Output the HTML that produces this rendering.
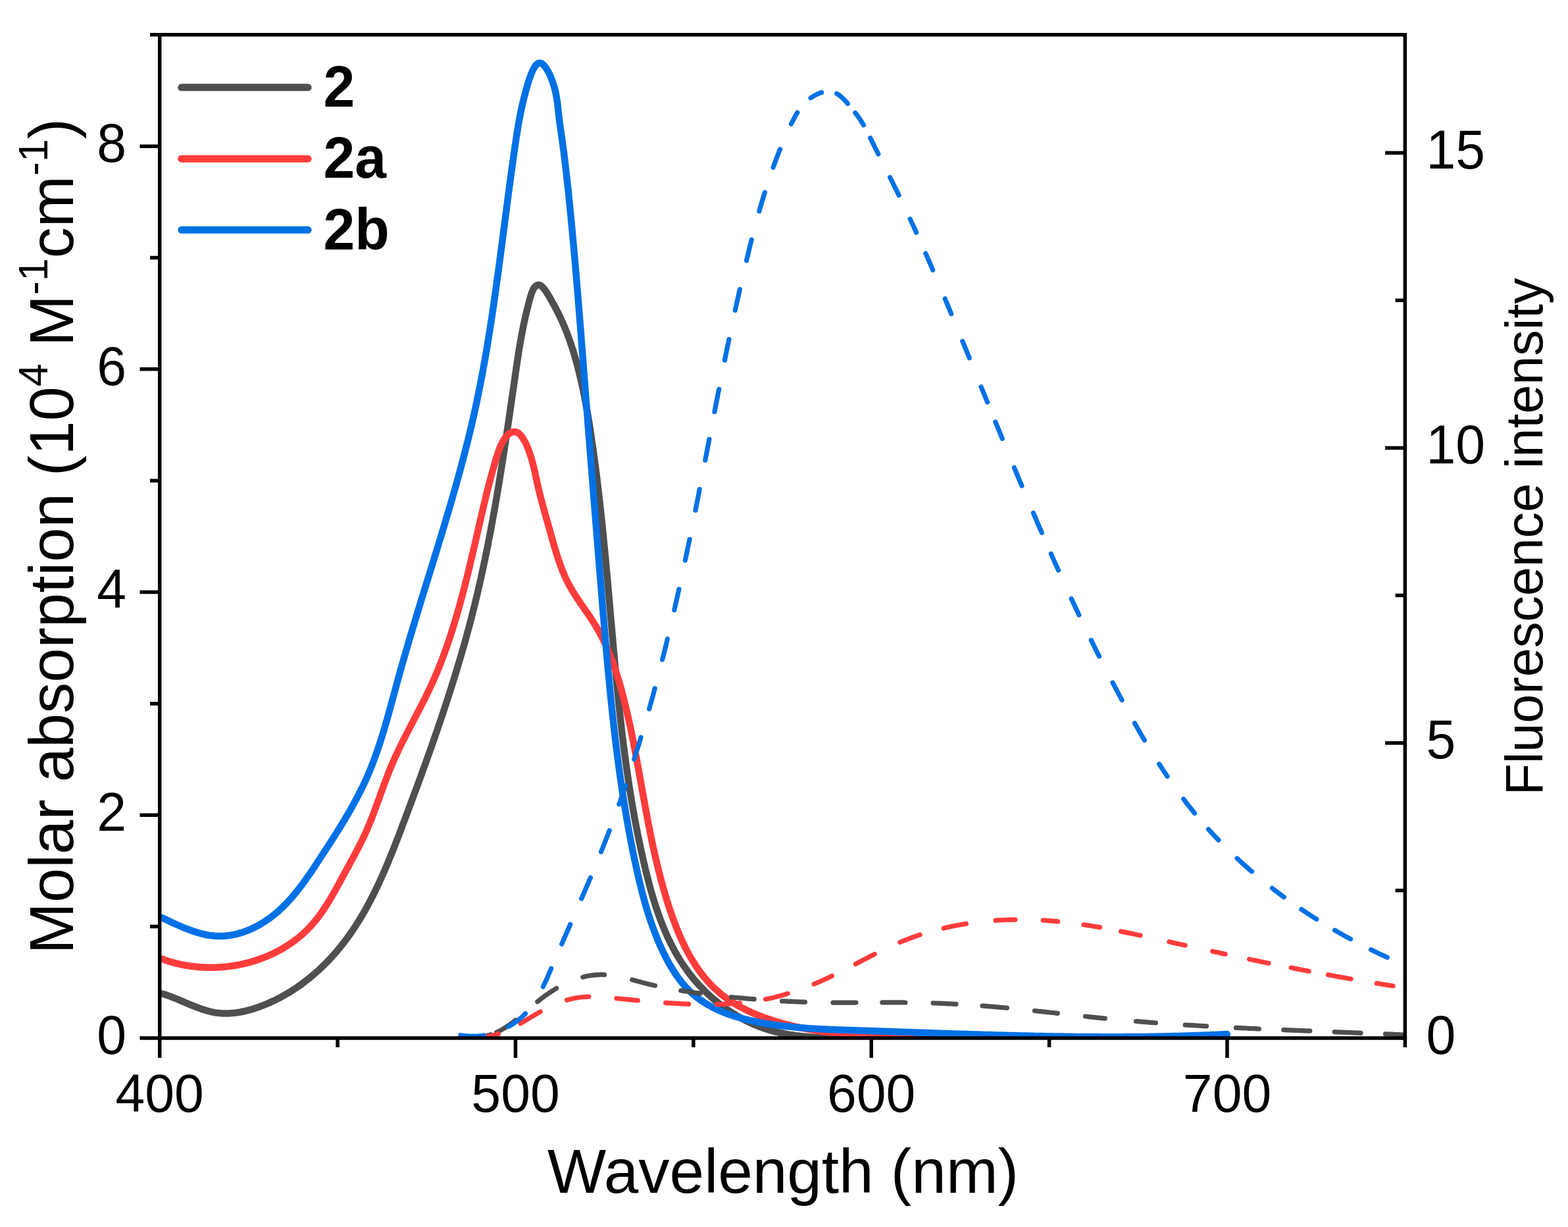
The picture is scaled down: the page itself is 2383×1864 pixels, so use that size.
<!DOCTYPE html>
<html><head><meta charset="utf-8"><style>html,body{margin:0;padding:0;background:#fff;overflow:hidden}svg{display:block}</style></head><body>
<svg width="2383" height="1864" viewBox="0 0 2383 1864">
<rect width="2383" height="1864" fill="#fff"/>
<defs><clipPath id="pc"><rect x="242.7" y="52.85" width="1892.6499999999999" height="1524.0500000000002"/></clipPath></defs>
<g fill="none" stroke-linecap="round" stroke-linejoin="round">
<g clip-path="url(#pc)">
<path d="M245.7 1509.4L248.0 1510.1L250.3 1510.8L252.6 1511.5L254.9 1512.3L257.2 1513.1L259.5 1514.0L261.8 1514.9L264.2 1515.8L266.5 1516.7L268.8 1517.6L271.1 1518.6L273.5 1519.6L275.8 1520.6L278.1 1521.6L280.5 1522.6L282.8 1523.6L285.2 1524.6L287.5 1525.6L289.9 1526.6L292.3 1527.5L294.6 1528.5L297.0 1529.4L299.4 1530.3L301.8 1531.2L304.2 1532.1L306.6 1532.9L309.0 1533.7L311.4 1534.5L313.8 1535.2L316.2 1535.9L318.6 1536.5L321.0 1537.1L323.5 1537.6L325.9 1538.1L328.3 1538.5L330.8 1538.8L333.2 1539.1L335.7 1539.3L338.1 1539.4L340.6 1539.5L343.0 1539.6L345.5 1539.5L348.0 1539.5L350.4 1539.3L352.9 1539.1L355.3 1538.9L357.8 1538.6L360.3 1538.3L362.7 1537.9L365.2 1537.5L367.6 1537.0L370.1 1536.5L372.5 1536.0L374.9 1535.4L377.4 1534.7L379.8 1534.1L382.2 1533.4L384.6 1532.7L387.0 1531.9L389.4 1531.1L391.8 1530.3L394.1 1529.4L396.5 1528.6L398.9 1527.7L401.2 1526.8L403.5 1525.8L405.8 1524.9L408.2 1523.9L410.4 1522.9L412.7 1521.8L415.0 1520.8L417.3 1519.7L419.5 1518.6L421.8 1517.5L424.0 1516.3L426.2 1515.2L428.4 1514.0L430.6 1512.8L432.8 1511.5L434.9 1510.3L437.1 1509.0L439.2 1507.7L441.4 1506.4L443.5 1505.1L445.6 1503.7L447.7 1502.4L449.8 1501.0L451.8 1499.6L453.9 1498.2L455.9 1496.7L458.0 1495.3L460.0 1493.8L462.0 1492.3L464.0 1490.8L465.9 1489.2L467.9 1487.7L469.9 1486.1L471.8 1484.6L473.7 1483.0L475.6 1481.4L477.5 1479.7L479.4 1478.1L481.3 1476.4L483.1 1474.8L485.0 1473.1L486.8 1471.4L488.6 1469.7L490.4 1467.9L492.2 1466.2L494.0 1464.5L495.7 1462.7L497.5 1460.9L499.2 1459.1L500.9 1457.3L502.6 1455.5L504.3 1453.7L506.0 1451.8L507.6 1450.0L509.3 1448.1L510.9 1446.2L512.5 1444.3L514.1 1442.4L515.7 1440.5L517.2 1438.6L518.8 1436.7L520.3 1434.8L521.8 1432.8L523.3 1430.9L524.8 1428.9L526.3 1426.9L527.8 1424.9L529.2 1422.9L530.7 1420.9L532.1 1418.9L533.5 1416.9L534.9 1414.9L536.3 1412.8L537.7 1410.8L539.0 1408.7L540.4 1406.6L541.7 1404.6L543.0 1402.5L544.3 1400.4L545.7 1398.3L546.9 1396.2L548.2 1394.1L549.5 1391.9L550.7 1389.8L552.0 1387.7L553.2 1385.5L554.5 1383.4L555.7 1381.2L556.9 1379.0L558.1 1376.9L559.3 1374.7L560.4 1372.5L561.6 1370.3L562.8 1368.1L563.9 1365.9L565.0 1363.7L566.2 1361.5L567.3 1359.3L568.4 1357.0L569.5 1354.8L570.6 1352.6L571.7 1350.3L572.8 1348.1L573.8 1345.8L574.9 1343.6L576.0 1341.3L577.0 1339.0L578.0 1336.8L579.1 1334.5L580.1 1332.2L581.1 1329.9L582.1 1327.6L583.2 1325.3L584.2 1323.0L585.2 1320.7L586.1 1318.4L587.1 1316.1L588.1 1313.8L589.1 1311.5L590.1 1309.2L591.0 1306.8L592.0 1304.5L592.9 1302.2L593.9 1299.9L594.8 1297.5L595.8 1295.2L596.7 1292.9L597.6 1290.5L598.6 1288.2L599.5 1285.8L600.4 1283.5L601.3 1281.2L602.2 1278.8L603.1 1276.5L604.1 1274.1L605.0 1271.8L605.9 1269.4L606.8 1267.1L607.7 1264.7L608.6 1262.3L609.5 1260.0L610.3 1257.6L611.2 1255.3L612.1 1252.9L613.0 1250.6L613.9 1248.2L614.8 1245.9L615.7 1243.5L616.6 1241.2L617.4 1238.8L618.3 1236.5L619.2 1234.1L620.1 1231.7L621.0 1229.4L621.8 1227.0L622.7 1224.7L623.6 1222.3L624.5 1220.0L625.4 1217.6L626.2 1215.3L627.1 1212.9L628.0 1210.6L628.8 1208.2L629.7 1205.9L630.6 1203.5L631.5 1201.2L632.3 1198.8L633.2 1196.5L634.1 1194.1L634.9 1191.8L635.8 1189.5L636.6 1187.1L637.5 1184.8L638.4 1182.4L639.2 1180.1L640.1 1177.7L640.9 1175.4L641.8 1173.0L642.6 1170.7L643.5 1168.3L644.3 1166.0L645.2 1163.6L646.0 1161.3L646.9 1158.9L647.7 1156.6L648.6 1154.2L649.4 1151.9L650.2 1149.5L651.1 1147.2L651.9 1144.8L652.8 1142.5L653.6 1140.1L654.4 1137.8L655.3 1135.4L656.1 1133.1L656.9 1130.7L657.7 1128.4L658.6 1126.0L659.4 1123.7L660.2 1121.3L661.0 1119.0L661.8 1116.6L662.6 1114.3L663.5 1111.9L664.3 1109.6L665.1 1107.2L665.9 1104.9L666.7 1102.5L667.5 1100.2L668.3 1097.8L669.1 1095.4L669.9 1093.1L670.7 1090.7L671.5 1088.4L672.3 1086.0L673.1 1083.7L673.8 1081.3L674.6 1078.9L675.4 1076.6L676.2 1074.2L677.0 1071.9L677.7 1069.5L678.5 1067.1L679.3 1064.8L680.1 1062.4L680.8 1060.0L681.6 1057.7L682.3 1055.3L683.1 1053.0L683.9 1050.6L684.6 1048.2L685.4 1045.9L686.1 1043.5L686.9 1041.1L687.6 1038.7L688.4 1036.4L689.1 1034.0L689.8 1031.6L690.6 1029.3L691.3 1026.9L692.0 1024.5L692.8 1022.1L693.5 1019.7L694.2 1017.4L694.9 1015.0L695.7 1012.6L696.4 1010.2L697.1 1007.8L697.8 1005.5L698.5 1003.1L699.2 1000.7L699.9 998.3L700.6 995.9L701.3 993.5L702.0 991.1L702.7 988.8L703.4 986.4L704.1 984.0L704.7 981.6L705.4 979.2L706.1 976.8L706.8 974.4L707.4 972.0L708.1 969.6L708.8 967.2L709.4 964.8L710.1 962.4L710.7 960.0L711.4 957.6L712.0 955.2L712.7 952.8L713.3 950.3L714.0 947.9L714.6 945.5L715.2 943.1L715.9 940.7L716.5 938.3L717.1 935.9L717.7 933.4L718.3 931.0L718.9 928.6L719.6 926.2L720.2 923.8L720.8 921.3L721.4 918.9L722.0 916.5L722.6 914.0L723.1 911.6L723.7 909.2L724.3 906.7L724.9 904.3L725.5 901.9L726.0 899.4L726.6 897.0L727.2 894.5L727.7 892.1L728.3 889.7L728.9 887.2L729.4 884.8L730.0 882.3L730.5 879.9L731.1 877.4L731.6 875.0L732.1 872.5L732.7 870.1L733.2 867.6L733.7 865.2L734.3 862.7L734.8 860.3L735.3 857.8L735.8 855.3L736.3 852.9L736.9 850.4L737.4 848.0L737.9 845.5L738.4 843.0L738.9 840.6L739.4 838.1L739.9 835.7L740.4 833.2L740.9 830.7L741.4 828.3L741.8 825.8L742.3 823.3L742.8 820.9L743.3 818.4L743.8 815.9L744.2 813.4L744.7 811.0L745.2 808.5L745.7 806.0L746.1 803.6L746.6 801.1L747.0 798.6L747.5 796.2L748.0 793.7L748.4 791.2L748.9 788.7L749.3 786.3L749.8 783.8L750.2 781.3L750.7 778.8L751.1 776.4L751.5 773.9L752.0 771.4L752.4 768.9L752.8 766.5L753.3 764.0L753.7 761.5L754.1 759.0L754.6 756.6L755.0 754.1L755.4 751.6L755.8 749.1L756.2 746.7L756.7 744.2L757.1 741.7L757.5 739.3L757.9 736.8L758.3 734.3L758.7 731.8L759.1 729.4L759.5 726.9L759.9 724.4L760.3 721.9L760.7 719.5L761.1 717.0L761.5 714.5L761.9 712.1L762.3 709.6L762.7 707.1L763.1 704.6L763.5 702.2L763.9 699.7L764.3 697.2L764.6 694.8L765.0 692.3L765.4 689.8L765.8 687.4L766.2 684.9L766.6 682.5L766.9 680.0L767.3 677.5L767.7 675.1L768.1 672.6L768.4 670.1L768.8 667.7L769.2 665.2L769.5 662.8L769.9 660.3L770.3 657.9L770.6 655.4L771.0 653.0L771.4 650.5L771.7 648.0L772.1 645.6L772.5 643.1L772.8 640.7L773.2 638.2L773.5 635.8L773.9 633.4L774.3 630.9L774.6 628.5L775.0 626.0L775.3 623.6L775.7 621.1L776.0 618.7L776.4 616.3L776.8 613.8L777.1 611.4L777.5 609.0L777.8 606.5L778.2 604.1L778.5 601.7L778.9 599.3L779.2 596.8L779.6 594.4L779.9 592.0L780.3 589.6L780.6 587.1L781.0 584.7L781.3 582.3L781.6 579.9L782.0 577.5L782.3 575.1L782.7 572.7L783.0 570.2L783.4 567.8L783.7 565.4L784.1 563.0L784.4 560.6L784.8 558.2L785.1 555.8L785.5 553.4L785.8 551.0L786.2 548.6L786.6 546.2L786.9 543.8L787.3 541.3L787.7 538.9L788.0 536.5L788.4 534.0L788.8 531.6L789.2 529.2L789.6 526.7L790.0 524.2L790.5 521.8L790.9 519.3L791.3 516.8L791.8 514.3L792.2 511.8L792.7 509.3L793.2 506.7L793.7 504.2L794.2 501.6L794.7 499.1L795.2 496.5L795.7 493.9L796.3 491.3L796.8 488.6L797.4 486.0L798.0 483.3L798.6 480.7L799.2 478.0L799.9 475.3L800.5 472.5L801.2 469.8L801.9 467.0L802.6 464.2L803.3 461.4L804.0 458.6L804.8 455.7L805.6 452.9L806.4 450.1L807.2 447.4L808.1 444.8L809.1 442.4L810.1 440.1L811.2 438.1L812.4 436.4L813.7 434.9L815.0 433.9L816.5 433.1L817.9 432.8L819.5 433.0L821.0 433.5L822.6 434.5L824.1 435.8L825.7 437.4L827.2 439.2L828.8 441.3L830.3 443.5L831.8 445.9L833.3 448.3L834.7 450.7L836.2 453.2L837.5 455.6L838.9 458.0L840.2 460.4L841.5 462.7L842.8 465.0L844.0 467.3L845.2 469.6L846.4 471.9L847.5 474.1L848.7 476.4L849.8 478.6L850.8 480.8L851.9 483.1L852.9 485.3L853.9 487.5L855.0 489.8L855.9 492.0L856.9 494.3L857.9 496.5L858.8 498.8L859.7 501.1L860.6 503.4L861.5 505.7L862.4 508.0L863.3 510.3L864.2 512.6L865.0 514.9L865.8 517.3L866.6 519.6L867.4 522.0L868.2 524.3L869.0 526.7L869.8 529.0L870.5 531.4L871.3 533.8L872.0 536.2L872.7 538.5L873.4 540.9L874.1 543.3L874.8 545.7L875.5 548.1L876.2 550.5L876.8 552.9L877.5 555.3L878.1 557.8L878.7 560.2L879.3 562.6L879.9 565.0L880.5 567.4L881.1 569.9L881.7 572.3L882.3 574.7L882.8 577.1L883.4 579.6L883.9 582.0L884.5 584.4L885.0 586.9L885.5 589.3L886.1 591.8L886.6 594.2L887.1 596.6L887.6 599.1L888.1 601.5L888.5 604.0L889.0 606.4L889.5 608.9L890.0 611.3L890.4 613.8L890.9 616.3L891.3 618.7L891.7 621.2L892.2 623.6L892.6 626.1L893.0 628.5L893.5 631.0L893.9 633.5L894.3 635.9L894.7 638.4L895.1 640.9L895.5 643.3L895.9 645.8L896.3 648.3L896.7 650.7L897.0 653.2L897.4 655.7L897.8 658.1L898.2 660.6L898.5 663.1L898.9 665.6L899.3 668.0L899.6 670.5L900.0 673.0L900.4 675.4L900.7 677.9L901.1 680.4L901.4 682.9L901.8 685.3L902.1 687.8L902.4 690.3L902.8 692.8L903.1 695.2L903.5 697.7L903.8 700.2L904.1 702.7L904.4 705.2L904.8 707.6L905.1 710.1L905.4 712.6L905.7 715.1L906.0 717.5L906.4 720.0L906.7 722.5L907.0 725.0L907.3 727.5L907.6 729.9L907.9 732.4L908.2 734.9L908.5 737.4L908.8 739.9L909.1 742.3L909.4 744.8L909.7 747.3L910.0 749.8L910.3 752.3L910.5 754.8L910.8 757.2L911.1 759.7L911.4 762.2L911.7 764.7L911.9 767.2L912.2 769.7L912.5 772.1L912.8 774.6L913.0 777.1L913.3 779.6L913.6 782.1L913.8 784.6L914.1 787.0L914.4 789.5L914.6 792.0L914.9 794.5L915.1 797.0L915.4 799.5L915.7 802.0L915.9 804.4L916.2 806.9L916.4 809.4L916.7 811.9L916.9 814.4L917.2 816.9L917.4 819.4L917.7 821.9L917.9 824.3L918.1 826.8L918.4 829.3L918.6 831.8L918.9 834.3L919.1 836.8L919.3 839.3L919.6 841.8L919.8 844.3L920.1 846.7L920.3 849.2L920.5 851.7L920.8 854.2L921.0 856.7L921.2 859.2L921.4 861.7L921.7 864.2L921.9 866.7L922.1 869.1L922.4 871.6L922.6 874.1L922.8 876.6L923.0 879.1L923.3 881.6L923.5 884.1L923.7 886.6L923.9 889.1L924.2 891.5L924.4 894.0L924.6 896.5L924.8 899.0L925.0 901.5L925.3 904.0L925.5 906.5L925.7 909.0L925.9 911.5L926.1 914.0L926.4 916.4L926.6 918.9L926.8 921.4L927.0 923.9L927.2 926.4L927.5 928.9L927.7 931.4L927.9 933.9L928.1 936.4L928.3 938.9L928.5 941.3L928.8 943.8L929.0 946.3L929.2 948.8L929.4 951.3L929.6 953.8L929.9 956.3L930.1 958.8L930.3 961.3L930.5 963.8L930.7 966.2L931.0 968.7L931.2 971.2L931.4 973.7L931.6 976.2L931.8 978.7L932.1 981.2L932.3 983.7L932.5 986.1L932.7 988.6L933.0 991.1L933.2 993.6L933.4 996.1L933.6 998.6L933.9 1001.1L934.1 1003.6L934.3 1006.0L934.5 1008.5L934.8 1011.0L935.0 1013.5L935.2 1016.0L935.5 1018.5L935.7 1021.0L935.9 1023.5L936.2 1025.9L936.4 1028.4L936.6 1030.9L936.9 1033.4L937.1 1035.9L937.4 1038.4L937.6 1040.9L937.9 1043.3L938.1 1045.8L938.3 1048.3L938.6 1050.8L938.8 1053.3L939.1 1055.8L939.3 1058.2L939.6 1060.7L939.9 1063.2L940.1 1065.7L940.4 1068.2L940.6 1070.7L940.9 1073.1L941.2 1075.6L941.4 1078.1L941.7 1080.6L942.0 1083.1L942.2 1085.5L942.5 1088.0L942.8 1090.5L943.0 1093.0L943.3 1095.5L943.6 1098.0L943.9 1100.4L944.2 1102.9L944.4 1105.4L944.7 1107.9L945.0 1110.3L945.3 1112.8L945.6 1115.3L945.9 1117.8L946.2 1120.3L946.5 1122.7L946.8 1125.2L947.1 1127.7L947.4 1130.2L947.7 1132.6L948.0 1135.1L948.4 1137.6L948.7 1140.1L949.0 1142.5L949.3 1145.0L949.6 1147.5L950.0 1150.0L950.3 1152.4L950.6 1154.9L951.0 1157.4L951.3 1159.9L951.7 1162.3L952.0 1164.8L952.3 1167.3L952.7 1169.7L953.0 1172.2L953.4 1174.7L953.8 1177.2L954.1 1179.6L954.5 1182.1L954.9 1184.6L955.2 1187.0L955.6 1189.5L956.0 1192.0L956.4 1194.4L956.7 1196.9L957.1 1199.4L957.5 1201.8L957.9 1204.3L958.3 1206.8L958.7 1209.2L959.1 1211.7L959.5 1214.2L959.9 1216.6L960.3 1219.1L960.8 1221.6L961.2 1224.0L961.6 1226.5L962.0 1228.9L962.5 1231.4L962.9 1233.9L963.3 1236.3L963.8 1238.8L964.2 1241.2L964.7 1243.7L965.1 1246.2L965.6 1248.6L966.1 1251.1L966.5 1253.5L967.0 1256.0L967.5 1258.5L968.0 1260.9L968.4 1263.4L968.9 1265.8L969.4 1268.3L969.9 1270.7L970.4 1273.2L970.9 1275.6L971.4 1278.1L971.9 1280.5L972.5 1283.0L973.0 1285.4L973.5 1287.9L974.0 1290.3L974.6 1292.8L975.1 1295.2L975.6 1297.7L976.2 1300.1L976.7 1302.6L977.3 1305.0L977.9 1307.5L978.4 1309.9L979.0 1312.4L979.6 1314.8L980.2 1317.3L980.7 1319.7L981.3 1322.2L981.9 1324.6L982.5 1327.0L983.1 1329.5L983.8 1331.9L984.4 1334.4L985.0 1336.8L985.6 1339.2L986.3 1341.7L986.9 1344.1L987.6 1346.5L988.2 1348.9L988.9 1351.3L989.6 1353.8L990.3 1356.2L991.0 1358.6L991.7 1361.0L992.4 1363.4L993.1 1365.8L993.9 1368.2L994.6 1370.6L995.4 1373.0L996.1 1375.4L996.9 1377.7L997.7 1380.1L998.5 1382.5L999.3 1384.8L1000.1 1387.2L1000.9 1389.5L1001.8 1391.9L1002.6 1394.2L1003.5 1396.6L1004.4 1398.9L1005.3 1401.2L1006.2 1403.5L1007.1 1405.8L1008.0 1408.1L1009.0 1410.4L1009.9 1412.7L1010.9 1415.0L1011.9 1417.3L1012.9 1419.5L1013.9 1421.8L1014.9 1424.0L1016.0 1426.3L1017.1 1428.5L1018.1 1430.7L1019.2 1432.9L1020.3 1435.1L1021.5 1437.3L1022.6 1439.5L1023.8 1441.7L1024.9 1443.9L1026.1 1446.0L1027.4 1448.2L1028.6 1450.3L1029.8 1452.5L1031.1 1454.6L1032.4 1456.7L1033.7 1458.8L1035.0 1460.9L1036.4 1462.9L1037.7 1465.0L1039.1 1467.1L1040.5 1469.1L1041.9 1471.1L1043.4 1473.1L1044.8 1475.1L1046.3 1477.1L1047.8 1479.1L1049.3 1481.1L1050.9 1483.0L1052.4 1485.0L1054.0 1486.9L1055.6 1488.8L1057.3 1490.7L1058.9 1492.6L1060.6 1494.5L1062.3 1496.4L1064.0 1498.2L1065.7 1500.0L1067.5 1501.8L1069.3 1503.6L1071.1 1505.4L1072.9 1507.2L1074.7 1508.9L1076.5 1510.7L1078.4 1512.4L1080.3 1514.1L1082.2 1515.8L1084.1 1517.4L1086.0 1519.1L1088.0 1520.7L1090.0 1522.3L1091.9 1523.9L1093.9 1525.4L1096.0 1527.0L1098.0 1528.5L1100.0 1530.0L1102.1 1531.5L1104.2 1533.0L1106.2 1534.4L1108.3 1535.8L1110.4 1537.2L1112.6 1538.6L1114.7 1539.9L1116.9 1541.3L1119.0 1542.6L1121.2 1543.8L1123.4 1545.1L1125.6 1546.3L1127.8 1547.5L1130.0 1548.7L1132.2 1549.9L1134.5 1551.0L1136.7 1552.1L1139.0 1553.2L1141.2 1554.2L1143.5 1555.3L1145.8 1556.3L1148.1 1557.2L1150.4 1558.2L1152.7 1559.1L1155.0 1560.0L1157.4 1560.8L1159.7 1561.7L1162.0 1562.5L1164.4 1563.2L1166.7 1564.0L1169.1 1564.7L1171.5 1565.4L1173.8 1566.1L1176.2 1566.7L1178.6 1567.3L1181.0 1567.9L1183.4 1568.5L1185.8 1569.0L1188.2 1569.5L1190.6 1570.0L1193.0 1570.5L1195.4 1570.9L1197.8 1571.4L1200.3 1571.8L1202.7 1572.1L1205.2 1572.5L1207.6 1572.9L1210.0 1573.2L1212.5 1573.5L1215.0 1573.8L1217.4 1574.1L1219.9 1574.3L1222.3 1574.6L1224.8 1574.8L1227.3 1575.0L1229.8 1575.2L1232.3 1575.4L1234.7 1575.6L1237.2 1575.7L1239.7 1575.8L1242.2 1576.0L1244.7 1576.1L1247.2 1576.2L1249.7 1576.3L1252.2 1576.4L1254.7 1576.5L1257.2 1576.5L1259.7 1576.6L1262.2 1576.7L1264.7 1576.7L1267.2 1576.7L1269.8 1576.8L1272.3 1576.8L1274.8 1576.8L1277.3 1576.8L1279.8 1576.8L1282.3 1576.8L1284.8 1576.9L1287.4 1576.9L1289.9 1576.9L1292.4 1576.8L1294.9 1576.8L1297.4 1576.8L1300.0 1576.8L1302.5 1576.8L1305.0 1576.8L1307.5 1576.8L1310.0 1576.8L1312.5 1576.8L1315.1 1576.8L1317.6 1576.8L1320.1 1576.8L1322.6 1576.8L1325.1 1576.8L1327.6 1576.8L1330.1 1576.8L1332.6 1576.8L1335.2 1576.8L1337.7 1576.8L1340.2 1576.8L1342.7 1576.8L1345.2 1576.8L1347.7 1576.8L1350.2 1576.8L1352.7 1576.8L1355.2 1576.8L1357.8 1576.8L1360.3 1576.8L1362.8 1576.8L1365.3 1576.8L1367.8 1576.7L1370.3 1576.7L1372.8 1576.7L1375.3 1576.7L1377.8 1576.7L1380.3 1576.7L1382.8 1576.7L1385.3 1576.7L1387.8 1576.7L1390.3 1576.7L1392.9 1576.7L1395.4 1576.7L1397.9 1576.7L1400.4 1576.7L1402.9 1576.7L1405.4 1576.7L1407.9 1576.7L1410.4 1576.7L1412.9 1576.8L1415.4 1576.8L1417.9 1576.8L1420.4 1576.8L1422.9 1576.8L1425.4 1576.8L1427.9 1576.8L1430.4 1576.8L1432.9 1576.8L1435.4 1576.8L1437.9 1576.8L1440.4 1576.8L1442.9 1576.8L1445.4 1576.8L1447.9 1576.8L1450.4 1576.8L1452.9 1576.8L1455.4 1576.8L1457.9 1576.8L1460.4 1576.8L1462.9 1576.8L1465.4 1576.8L1467.9 1576.8L1470.4 1576.8L1472.9 1576.8L1475.4 1576.8L1477.9 1576.8L1480.4 1576.8L1482.9 1576.8L1485.4 1576.8L1487.9 1576.8L1490.4 1576.8L1492.9 1576.8L1495.4 1576.8L1497.8 1576.8L1500.3 1576.8L1502.8 1576.8L1505.3 1576.8L1507.8 1576.9L1510.3 1576.9L1512.8 1576.9L1515.3 1576.9L1517.8 1576.9L1520.3 1576.9L1522.8 1576.9L1525.3 1576.9L1527.8 1576.9L1530.3 1576.9L1532.8 1576.9L1535.3 1576.9L1537.8 1576.9L1540.3 1576.9L1542.8 1576.9L1545.3 1576.9L1547.8 1576.9L1550.2 1576.9L1552.7 1576.9L1555.2 1576.9L1557.7 1576.9L1560.2 1576.9L1562.7 1576.9L1565.2 1576.9L1567.7 1577.0L1570.2 1577.0L1572.7 1577.0L1575.2 1577.0L1577.7 1577.0L1580.2 1577.0L1582.7 1577.0L1585.2 1577.0L1587.7 1577.0L1590.1 1577.0L1592.6 1577.0L1595.1 1577.0L1597.6 1577.0L1600.1 1577.0L1602.6 1577.0L1605.1 1577.0L1607.6 1577.0L1610.1 1577.0L1612.6 1577.0L1615.1 1577.0L1617.6 1577.0L1620.1 1577.0L1622.6 1577.0L1625.1 1577.0L1627.5 1577.0L1630.0 1577.1L1632.5 1577.1L1635.0 1577.1L1637.5 1577.1L1640.0 1577.1L1642.5 1577.1L1645.0 1577.1L1647.5 1577.1L1650.0 1577.1L1652.5 1577.1L1655.0 1577.1L1657.5 1577.1L1660.0 1577.1L1662.5 1577.1L1665.0 1577.1L1667.5 1577.1L1670.0 1577.1L1672.4 1577.1L1674.9 1577.1L1677.4 1577.1L1679.9 1577.1L1682.4 1577.1L1684.9 1577.1L1687.4 1577.1L1689.9 1577.1L1692.4 1577.1L1694.9 1577.1L1697.4 1577.1L1699.9 1577.1L1702.4 1577.1L1704.9 1577.1L1707.4 1577.1L1709.9 1577.1L1712.4 1577.1L1714.9 1577.1L1717.4 1577.1L1719.9 1577.1L1722.4 1577.1L1724.9 1577.1L1727.4 1577.1L1729.9 1577.1L1732.4 1577.1L1734.9 1577.1L1737.4 1577.1L1739.9 1577.1L1742.4 1577.1L1744.9 1577.1L1747.4 1577.1L1749.9 1577.1L1752.4 1577.1L1754.9 1577.1L1757.4 1577.1L1759.9 1577.1L1762.4 1577.1L1764.9 1577.1L1767.4 1577.1L1769.9 1577.1L1772.4 1577.1L1774.9 1577.1L1777.4 1577.1L1779.9 1577.1L1782.4 1577.1L1784.9 1577.1L1787.4 1577.1L1789.9 1577.1L1792.4 1577.1L1794.9 1577.1L1797.4 1577.1L1799.9 1577.1L1802.4 1577.1L1804.9 1577.1L1807.4 1577.1L1809.9 1577.1L1812.4 1577.1L1814.9 1577.1L1817.4 1577.0L1819.9 1577.0L1822.5 1577.0L1825.0 1577.0L1827.5 1577.0L1830.0 1577.0L1832.5 1577.0L1835.0 1577.0L1837.5 1577.0L1840.0 1577.0L1842.5 1577.0L1845.0 1577.0L1847.5 1577.0L1850.1 1577.0L1852.6 1577.0L1855.1 1576.9L1857.6 1576.9L1860.1 1576.9L1862.6 1576.9L1865.1 1576.9" stroke="#4f4f4f" stroke-width="10.5"/>
<path d="M246.0 1456.7L248.4 1457.5L250.7 1458.4L253.1 1459.2L255.4 1459.9L257.8 1460.7L260.2 1461.4L262.6 1462.1L265.0 1462.7L267.4 1463.4L269.8 1463.9L272.3 1464.5L274.7 1465.1L277.2 1465.6L279.6 1466.0L282.1 1466.5L284.5 1466.9L287.0 1467.3L289.5 1467.7L292.0 1468.0L294.5 1468.3L297.0 1468.6L299.4 1468.8L301.9 1469.0L304.5 1469.2L307.0 1469.4L309.5 1469.5L312.0 1469.6L314.5 1469.7L317.0 1469.8L319.5 1469.8L322.0 1469.8L324.5 1469.7L327.1 1469.7L329.6 1469.6L332.1 1469.4L334.6 1469.3L337.1 1469.1L339.6 1468.9L342.1 1468.7L344.6 1468.4L347.1 1468.1L349.6 1467.8L352.1 1467.5L354.6 1467.1L357.1 1466.7L359.6 1466.3L362.0 1465.8L364.5 1465.3L367.0 1464.8L369.4 1464.3L371.9 1463.7L374.3 1463.1L376.7 1462.5L379.2 1461.9L381.6 1461.2L384.0 1460.5L386.4 1459.8L388.8 1459.0L391.1 1458.2L393.5 1457.4L395.9 1456.6L398.2 1455.7L400.5 1454.8L402.9 1453.9L405.2 1453.0L407.5 1452.0L409.8 1451.0L412.0 1450.0L414.3 1448.9L416.5 1447.9L418.8 1446.7L421.0 1445.6L423.2 1444.5L425.4 1443.3L427.5 1442.1L429.7 1440.8L431.8 1439.6L433.9 1438.3L436.0 1437.0L438.1 1435.6L440.2 1434.3L442.2 1432.9L444.2 1431.5L446.2 1430.0L448.2 1428.5L450.2 1427.0L452.1 1425.5L454.0 1424.0L455.9 1422.4L457.8 1420.8L459.7 1419.2L461.5 1417.5L463.3 1415.9L465.1 1414.2L466.9 1412.4L468.6 1410.7L470.3 1408.9L472.0 1407.1L473.7 1405.3L475.3 1403.4L476.9 1401.5L478.5 1399.6L480.1 1397.7L481.7 1395.8L483.2 1393.8L484.7 1391.8L486.2 1389.8L487.6 1387.8L489.1 1385.8L490.5 1383.7L491.9 1381.6L493.3 1379.5L494.7 1377.4L496.0 1375.3L497.4 1373.2L498.7 1371.0L500.0 1368.9L501.3 1366.7L502.6 1364.5L503.9 1362.4L505.2 1360.2L506.5 1358.0L507.7 1355.8L509.0 1353.5L510.2 1351.3L511.4 1349.1L512.6 1346.9L513.9 1344.7L515.1 1342.4L516.3 1340.2L517.5 1338.0L518.7 1335.8L519.9 1333.5L521.1 1331.3L522.3 1329.1L523.5 1326.9L524.7 1324.7L525.9 1322.5L527.1 1320.3L528.3 1318.1L529.5 1315.9L530.7 1313.7L531.9 1311.5L533.1 1309.3L534.3 1307.2L535.5 1305.0L536.7 1302.8L537.8 1300.6L539.0 1298.4L540.2 1296.2L541.3 1294.0L542.5 1291.9L543.6 1289.7L544.8 1287.5L545.9 1285.3L547.0 1283.1L548.1 1280.9L549.2 1278.7L550.3 1276.4L551.4 1274.2L552.5 1272.0L553.5 1269.7L554.5 1267.5L555.6 1265.2L556.6 1263.0L557.6 1260.7L558.6 1258.4L559.5 1256.2L560.5 1253.9L561.5 1251.6L562.4 1249.3L563.3 1246.9L564.3 1244.6L565.2 1242.3L566.1 1240.0L567.0 1237.6L567.9 1235.3L568.7 1233.0L569.6 1230.6L570.5 1228.3L571.4 1225.9L572.2 1223.6L573.1 1221.2L573.9 1218.8L574.8 1216.5L575.7 1214.1L576.5 1211.8L577.4 1209.4L578.2 1207.0L579.1 1204.7L579.9 1202.3L580.8 1199.9L581.6 1197.6L582.5 1195.2L583.4 1192.9L584.2 1190.5L585.1 1188.2L586.0 1185.8L586.9 1183.5L587.8 1181.1L588.7 1178.8L589.6 1176.4L590.5 1174.1L591.4 1171.8L592.4 1169.5L593.3 1167.1L594.3 1164.8L595.2 1162.5L596.2 1160.2L597.2 1157.9L598.2 1155.6L599.2 1153.4L600.2 1151.1L601.3 1148.8L602.3 1146.6L603.3 1144.3L604.4 1142.1L605.5 1139.8L606.5 1137.6L607.6 1135.3L608.7 1133.1L609.8 1130.9L610.9 1128.6L612.0 1126.4L613.1 1124.2L614.3 1122.0L615.4 1119.7L616.5 1117.5L617.6 1115.3L618.8 1113.1L619.9 1110.9L621.1 1108.7L622.2 1106.5L623.4 1104.3L624.5 1102.1L625.7 1099.9L626.8 1097.7L628.0 1095.5L629.1 1093.3L630.3 1091.1L631.4 1088.9L632.6 1086.7L633.7 1084.5L634.9 1082.3L636.0 1080.1L637.2 1077.9L638.3 1075.7L639.4 1073.5L640.6 1071.3L641.7 1069.0L642.8 1066.8L643.9 1064.6L645.1 1062.4L646.2 1060.2L647.3 1057.9L648.4 1055.7L649.5 1053.5L650.5 1051.2L651.6 1049.0L652.7 1046.8L653.7 1044.5L654.8 1042.3L655.8 1040.0L656.9 1037.7L657.9 1035.5L658.9 1033.2L659.9 1030.9L660.9 1028.6L661.9 1026.3L662.9 1024.1L663.8 1021.8L664.8 1019.5L665.7 1017.2L666.7 1014.8L667.6 1012.5L668.5 1010.2L669.5 1007.9L670.4 1005.6L671.3 1003.2L672.2 1000.9L673.1 998.6L673.9 996.2L674.8 993.9L675.7 991.5L676.5 989.2L677.4 986.8L678.2 984.5L679.0 982.1L679.9 979.7L680.7 977.4L681.5 975.0L682.3 972.6L683.1 970.2L683.9 967.9L684.7 965.5L685.4 963.1L686.2 960.7L687.0 958.3L687.7 955.9L688.5 953.5L689.2 951.1L690.0 948.7L690.7 946.3L691.4 943.9L692.2 941.5L692.9 939.1L693.6 936.7L694.3 934.3L695.0 931.9L695.7 929.4L696.4 927.0L697.1 924.6L697.8 922.2L698.4 919.8L699.1 917.4L699.8 914.9L700.4 912.5L701.1 910.1L701.7 907.7L702.4 905.2L703.0 902.8L703.7 900.4L704.3 897.9L704.9 895.5L705.6 893.1L706.2 890.7L706.8 888.2L707.4 885.8L708.0 883.4L708.7 880.9L709.3 878.5L709.9 876.1L710.5 873.6L711.1 871.2L711.7 868.8L712.3 866.4L712.8 863.9L713.4 861.5L714.0 859.1L714.6 856.6L715.2 854.2L715.7 851.8L716.3 849.4L716.9 846.9L717.5 844.5L718.0 842.1L718.6 839.7L719.2 837.3L719.7 834.8L720.3 832.4L720.9 830.0L721.4 827.6L722.0 825.2L722.5 822.8L723.1 820.4L723.6 818.0L724.2 815.6L724.7 813.1L725.3 810.7L725.8 808.4L726.4 806.0L726.9 803.6L727.5 801.2L728.0 798.8L728.6 796.4L729.1 794.0L729.7 791.6L730.2 789.3L730.8 786.9L731.3 784.5L731.9 782.1L732.4 779.8L733.0 777.4L733.5 775.1L734.1 772.7L734.7 770.3L735.2 768.0L735.8 765.6L736.3 763.2L736.9 760.9L737.5 758.5L738.1 756.1L738.6 753.7L739.2 751.3L739.8 748.9L740.4 746.5L741.0 744.1L741.7 741.7L742.3 739.2L742.9 736.8L743.5 734.3L744.2 731.8L744.9 729.3L745.5 726.8L746.2 724.3L746.9 721.7L747.6 719.2L748.3 716.6L749.0 714.0L749.8 711.3L750.5 708.7L751.3 706.0L752.1 703.3L752.9 700.6L753.7 697.8L754.5 695.1L755.4 692.3L756.3 689.5L757.2 686.8L758.2 684.1L759.2 681.5L760.3 678.8L761.4 676.3L762.6 673.8L763.9 671.4L765.2 669.1L766.6 666.9L768.0 664.9L769.5 663.0L771.0 661.3L772.6 659.8L774.2 658.5L775.9 657.5L777.5 656.7L779.1 656.1L780.8 655.9L782.4 655.9L784.0 656.2L785.5 656.7L787.1 657.5L788.6 658.6L790.0 659.9L791.5 661.4L792.9 663.1L794.2 665.0L795.5 667.1L796.8 669.3L798.1 671.6L799.3 674.1L800.5 676.7L801.6 679.4L802.7 682.1L803.8 684.9L804.8 687.8L805.8 690.7L806.7 693.6L807.6 696.5L808.5 699.4L809.2 702.2L810.0 705.1L810.7 707.8L811.4 710.6L812.0 713.3L812.6 715.9L813.2 718.5L813.7 721.1L814.3 723.7L814.8 726.2L815.4 728.7L815.9 731.2L816.4 733.7L817.0 736.2L817.6 738.6L818.1 741.0L818.7 743.5L819.3 745.9L819.9 748.3L820.5 750.7L821.1 753.0L821.7 755.4L822.3 757.8L822.9 760.1L823.5 762.5L824.1 764.8L824.8 767.2L825.4 769.5L826.0 771.8L826.7 774.2L827.3 776.5L828.0 778.8L828.6 781.1L829.3 783.5L829.9 785.8L830.6 788.1L831.2 790.4L831.9 792.8L832.6 795.1L833.2 797.5L833.9 799.8L834.6 802.2L835.2 804.5L835.9 806.9L836.6 809.3L837.2 811.7L837.9 814.1L838.6 816.5L839.3 818.9L839.9 821.3L840.6 823.7L841.3 826.2L842.0 828.6L842.7 831.0L843.5 833.5L844.2 835.9L844.9 838.3L845.7 840.7L846.4 843.2L847.2 845.6L848.0 848.0L848.8 850.4L849.6 852.8L850.5 855.2L851.3 857.6L852.2 860.0L853.1 862.4L854.0 864.7L854.9 867.1L855.9 869.4L856.9 871.8L857.9 874.1L858.9 876.4L859.9 878.7L861.0 880.9L862.1 883.2L863.3 885.4L864.4 887.7L865.6 889.9L866.8 892.0L868.1 894.2L869.3 896.4L870.6 898.5L871.9 900.6L873.2 902.7L874.6 904.8L875.9 906.9L877.3 909.0L878.7 911.1L880.1 913.1L881.5 915.2L882.9 917.3L884.3 919.3L885.7 921.4L887.1 923.4L888.5 925.5L890.0 927.5L891.4 929.5L892.8 931.6L894.2 933.6L895.6 935.7L897.0 937.8L898.3 939.8L899.7 941.9L901.1 944.0L902.4 946.1L903.7 948.2L905.0 950.3L906.3 952.4L907.5 954.5L908.8 956.7L910.0 958.9L911.2 961.0L912.3 963.2L913.5 965.4L914.6 967.6L915.7 969.8L916.8 972.0L917.9 974.3L919.0 976.5L920.0 978.7L921.1 981.0L922.1 983.3L923.1 985.6L924.0 987.8L925.0 990.1L926.0 992.4L926.9 994.7L927.8 997.1L928.7 999.4L929.6 1001.7L930.5 1004.0L931.3 1006.4L932.2 1008.7L933.0 1011.1L933.8 1013.5L934.6 1015.8L935.4 1018.2L936.2 1020.6L937.0 1023.0L937.7 1025.3L938.5 1027.7L939.2 1030.1L940.0 1032.5L940.7 1034.9L941.4 1037.3L942.1 1039.8L942.8 1042.2L943.4 1044.6L944.1 1047.0L944.8 1049.4L945.4 1051.9L946.1 1054.3L946.7 1056.7L947.3 1059.1L947.9 1061.6L948.5 1064.0L949.2 1066.4L949.8 1068.9L950.3 1071.3L950.9 1073.7L951.5 1076.2L952.1 1078.6L952.7 1081.0L953.2 1083.5L953.8 1085.9L954.3 1088.4L954.9 1090.8L955.4 1093.2L956.0 1095.7L956.5 1098.1L957.0 1100.5L957.6 1103.0L958.1 1105.4L958.6 1107.9L959.1 1110.3L959.6 1112.8L960.1 1115.2L960.6 1117.6L961.1 1120.1L961.6 1122.5L962.1 1125.0L962.6 1127.4L963.1 1129.9L963.5 1132.3L964.0 1134.7L964.5 1137.2L965.0 1139.6L965.4 1142.1L965.9 1144.5L966.3 1147.0L966.8 1149.4L967.3 1151.9L967.7 1154.3L968.2 1156.8L968.6 1159.2L969.1 1161.6L969.5 1164.1L970.0 1166.5L970.4 1169.0L970.9 1171.4L971.3 1173.9L971.7 1176.3L972.2 1178.8L972.6 1181.2L973.1 1183.7L973.5 1186.1L973.9 1188.6L974.4 1191.0L974.8 1193.5L975.3 1195.9L975.7 1198.4L976.1 1200.8L976.6 1203.2L977.0 1205.7L977.5 1208.1L977.9 1210.6L978.3 1213.0L978.8 1215.5L979.2 1217.9L979.7 1220.4L980.1 1222.8L980.6 1225.3L981.0 1227.7L981.5 1230.2L981.9 1232.6L982.4 1235.1L982.8 1237.5L983.3 1239.9L983.7 1242.4L984.2 1244.8L984.7 1247.3L985.1 1249.7L985.6 1252.2L986.1 1254.6L986.6 1257.1L987.1 1259.5L987.5 1261.9L988.0 1264.4L988.5 1266.8L989.0 1269.3L989.5 1271.7L990.0 1274.2L990.5 1276.6L991.0 1279.0L991.5 1281.5L992.1 1283.9L992.6 1286.4L993.1 1288.8L993.7 1291.2L994.2 1293.7L994.7 1296.1L995.3 1298.6L995.8 1301.0L996.4 1303.4L997.0 1305.9L997.5 1308.3L998.1 1310.7L998.7 1313.2L999.3 1315.6L999.9 1318.0L1000.5 1320.5L1001.1 1322.9L1001.7 1325.3L1002.3 1327.8L1002.9 1330.2L1003.6 1332.6L1004.2 1335.0L1004.8 1337.5L1005.5 1339.9L1006.2 1342.3L1006.8 1344.8L1007.5 1347.2L1008.2 1349.6L1008.9 1352.0L1009.6 1354.5L1010.3 1356.9L1011.0 1359.3L1011.7 1361.7L1012.5 1364.1L1013.2 1366.6L1013.9 1369.0L1014.7 1371.4L1015.5 1373.8L1016.2 1376.2L1017.0 1378.6L1017.8 1381.1L1018.6 1383.5L1019.5 1385.9L1020.3 1388.3L1021.1 1390.7L1022.0 1393.1L1022.8 1395.5L1023.7 1397.9L1024.6 1400.2L1025.5 1402.6L1026.4 1405.0L1027.3 1407.4L1028.2 1409.7L1029.2 1412.1L1030.1 1414.4L1031.1 1416.7L1032.1 1419.1L1033.1 1421.4L1034.1 1423.7L1035.1 1426.0L1036.2 1428.3L1037.2 1430.6L1038.3 1432.8L1039.4 1435.1L1040.5 1437.4L1041.6 1439.6L1042.7 1441.8L1043.9 1444.0L1045.1 1446.2L1046.2 1448.4L1047.4 1450.6L1048.7 1452.8L1049.9 1454.9L1051.2 1457.0L1052.4 1459.2L1053.7 1461.3L1055.1 1463.3L1056.4 1465.4L1057.7 1467.5L1059.1 1469.5L1060.5 1471.5L1061.9 1473.5L1063.3 1475.5L1064.8 1477.5L1066.3 1479.4L1067.8 1481.4L1069.3 1483.3L1070.8 1485.1L1072.4 1487.0L1074.0 1488.9L1075.6 1490.7L1077.2 1492.5L1078.9 1494.3L1080.5 1496.0L1082.2 1497.8L1083.9 1499.5L1085.7 1501.2L1087.5 1502.8L1089.3 1504.5L1091.1 1506.1L1092.9 1507.7L1094.8 1509.3L1096.7 1510.8L1098.6 1512.3L1100.5 1513.8L1102.5 1515.3L1104.5 1516.7L1106.5 1518.2L1108.6 1519.6L1110.6 1520.9L1112.7 1522.3L1114.8 1523.6L1116.9 1524.9L1119.1 1526.2L1121.2 1527.4L1123.4 1528.6L1125.6 1529.9L1127.8 1531.0L1130.0 1532.2L1132.3 1533.3L1134.5 1534.5L1136.8 1535.6L1139.1 1536.6L1141.4 1537.7L1143.7 1538.7L1146.0 1539.7L1148.4 1540.7L1150.7 1541.7L1153.1 1542.7L1155.5 1543.6L1157.8 1544.5L1160.2 1545.4L1162.6 1546.3L1165.0 1547.1L1167.5 1548.0L1169.9 1548.8L1172.3 1549.6L1174.7 1550.4L1177.2 1551.1L1179.6 1551.9L1182.1 1552.6L1184.5 1553.3L1187.0 1554.0L1189.4 1554.7L1191.9 1555.4L1194.4 1556.0L1196.8 1556.7L1199.3 1557.3L1201.7 1557.9L1204.2 1558.5L1206.7 1559.1L1209.1 1559.6L1211.6 1560.2L1214.0 1560.7L1216.5 1561.2L1219.0 1561.7L1221.4 1562.2L1223.9 1562.7L1226.4 1563.1L1228.8 1563.6L1231.3 1564.0L1233.8 1564.4L1236.2 1564.8L1238.7 1565.2L1241.2 1565.6L1243.7 1566.0L1246.1 1566.3L1248.6 1566.7L1251.1 1567.0L1253.5 1567.4L1256.0 1567.7L1258.5 1568.0L1261.0 1568.3L1263.4 1568.6L1265.9 1568.8L1268.4 1569.1L1270.9 1569.3L1273.3 1569.6L1275.8 1569.8L1278.3 1570.0L1280.8 1570.3L1283.2 1570.5L1285.7 1570.7L1288.2 1570.8L1290.7 1571.0L1293.1 1571.2L1295.6 1571.4L1298.1 1571.5L1300.6 1571.7L1303.1 1571.8L1305.5 1571.9L1308.0 1572.1L1310.5 1572.2L1313.0 1572.3L1315.5 1572.4L1318.0 1572.5L1320.4 1572.6L1322.9 1572.7L1325.4 1572.8L1327.9 1572.9L1330.4 1573.0L1332.9 1573.0L1335.3 1573.1L1337.8 1573.2L1340.3 1573.2L1342.8 1573.3L1345.3 1573.3L1347.8 1573.4L1350.3 1573.4L1352.8 1573.4L1355.2 1573.5L1357.7 1573.5L1360.2 1573.5L1362.7 1573.6L1365.2 1573.6L1367.7 1573.6L1370.2 1573.6L1372.7 1573.7L1375.2 1573.7L1377.6 1573.7L1380.1 1573.7L1382.6 1573.7L1385.1 1573.7L1387.6 1573.7L1390.1 1573.8L1392.6 1573.8L1395.1 1573.8L1397.6 1573.8L1400.1 1573.8L1402.6 1573.8L1405.1 1573.8L1407.5 1573.9L1410.0 1573.9L1412.5 1573.9L1415.0 1573.9L1417.5 1573.9L1420.0 1573.9L1422.5 1574.0L1425.0 1574.0L1427.5 1574.0L1430.0 1574.0L1432.5 1574.0L1435.0 1574.1L1437.5 1574.1L1440.0 1574.1L1442.5 1574.1L1445.0 1574.2L1447.5 1574.2L1450.0 1574.2L1452.5 1574.2L1455.0 1574.3L1457.5 1574.3L1460.0 1574.3L1462.5 1574.3L1465.0 1574.4L1467.5 1574.4L1470.0 1574.4L1472.5 1574.5L1475.0 1574.5L1477.5 1574.5L1480.0 1574.6L1482.5 1574.6L1485.0 1574.6L1487.5 1574.6L1490.0 1574.7L1492.5 1574.7L1495.0 1574.7L1497.5 1574.8L1500.0 1574.8L1502.5 1574.8L1505.0 1574.9L1507.5 1574.9L1510.0 1574.9L1512.5 1575.0L1515.0 1575.0L1517.5 1575.0L1520.0 1575.1L1522.5 1575.1L1525.0 1575.1L1527.5 1575.2L1530.0 1575.2L1532.5 1575.2L1535.0 1575.3L1537.5 1575.3L1540.0 1575.4L1542.5 1575.4L1545.0 1575.4L1547.5 1575.5L1550.0 1575.5L1552.5 1575.5L1555.0 1575.6L1557.5 1575.6L1560.0 1575.6L1562.5 1575.7L1565.0 1575.7L1567.5 1575.7L1570.0 1575.8L1572.5 1575.8L1575.0 1575.8L1577.5 1575.9L1580.0 1575.9L1582.5 1576.0L1585.0 1576.0L1587.5 1576.0L1590.0 1576.1L1592.5 1576.1L1595.1 1576.1L1597.6 1576.2L1600.1 1576.2L1602.6 1576.2L1605.1 1576.3L1607.6 1576.3L1610.1 1576.3L1612.6 1576.4L1615.1 1576.4L1617.6 1576.4L1620.1 1576.5L1622.6 1576.5L1625.1 1576.5L1627.6 1576.6L1630.1 1576.6L1632.6 1576.6L1635.1 1576.6L1637.6 1576.7L1640.1 1576.7L1642.6 1576.7L1645.1 1576.8L1647.6 1576.8L1650.1 1576.8L1652.6 1576.8L1655.1 1576.9L1657.6 1576.9L1660.1 1576.9L1662.6 1577.0L1665.1 1577.0L1667.7 1577.0L1670.2 1577.0L1672.7 1577.1L1675.2 1577.1L1677.7 1577.1L1680.2 1577.1L1682.7 1577.2L1685.2 1577.2L1687.7 1577.2L1690.2 1577.2L1692.7 1577.2L1695.2 1577.3L1697.7 1577.3L1700.2 1577.3L1702.7 1577.3L1705.2 1577.3L1707.7 1577.3L1710.2 1577.4L1712.7 1577.4L1715.2 1577.4L1717.7 1577.4L1720.2 1577.4L1722.7 1577.4L1725.2 1577.4L1727.7 1577.5L1730.2 1577.5L1732.7 1577.5L1735.2 1577.5L1737.7 1577.5L1740.2 1577.5L1742.7 1577.5L1745.2 1577.5L1747.7 1577.5L1750.2 1577.5L1752.7 1577.5L1755.2 1577.5L1757.7 1577.5L1760.2 1577.5L1762.7 1577.5L1765.2 1577.5L1767.7 1577.5L1770.2 1577.5L1772.7 1577.5L1775.2 1577.5L1777.7 1577.5L1780.2 1577.5L1782.7 1577.5L1785.2 1577.5L1787.7 1577.5L1790.1 1577.5L1792.6 1577.5L1795.1 1577.5L1797.6 1577.4L1800.1 1577.4L1802.6 1577.4L1805.1 1577.4L1807.6 1577.4L1810.1 1577.4L1812.6 1577.3L1815.1 1577.3L1817.6 1577.3L1820.1 1577.3L1822.6 1577.3L1825.1 1577.2L1827.6 1577.2L1830.1 1577.2L1832.5 1577.2L1835.0 1577.1L1837.5 1577.1L1840.0 1577.1L1842.5 1577.0L1845.0 1577.0L1847.5 1577.0L1850.0 1576.9L1852.5 1576.9L1855.0 1576.8L1857.4 1576.8L1859.9 1576.8L1862.4 1576.7L1864.9 1576.7" stroke="#ff3c3c" stroke-width="10.5"/>
<path d="M245.8 1394.0L247.9 1395.0L250.1 1396.0L252.2 1397.0L254.4 1398.1L256.6 1399.1L258.8 1400.1L261.0 1401.2L263.3 1402.2L265.5 1403.3L267.8 1404.3L270.1 1405.3L272.4 1406.3L274.7 1407.3L277.1 1408.3L279.4 1409.3L281.8 1410.3L284.2 1411.2L286.6 1412.1L289.0 1413.0L291.4 1413.9L293.8 1414.7L296.2 1415.5L298.6 1416.3L301.1 1417.0L303.5 1417.7L306.0 1418.3L308.4 1418.9L310.9 1419.5L313.4 1420.0L315.9 1420.5L318.3 1420.9L320.8 1421.2L323.3 1421.5L325.8 1421.8L328.2 1422.0L330.7 1422.1L333.2 1422.1L335.7 1422.1L338.1 1422.0L340.6 1421.9L343.1 1421.7L345.5 1421.4L348.0 1421.1L350.4 1420.8L352.9 1420.3L355.3 1419.9L357.7 1419.3L360.2 1418.8L362.6 1418.1L365.0 1417.4L367.3 1416.7L369.7 1415.9L372.1 1415.1L374.4 1414.2L376.7 1413.3L379.0 1412.4L381.3 1411.4L383.6 1410.3L385.9 1409.3L388.1 1408.1L390.4 1407.0L392.6 1405.8L394.7 1404.6L396.9 1403.3L399.0 1402.0L401.2 1400.7L403.3 1399.3L405.3 1397.9L407.4 1396.5L409.4 1395.1L411.4 1393.6L413.4 1392.1L415.3 1390.6L417.2 1389.1L419.1 1387.5L421.0 1385.9L422.9 1384.3L424.7 1382.6L426.5 1381.0L428.3 1379.3L430.1 1377.6L431.8 1375.8L433.6 1374.1L435.3 1372.3L437.0 1370.5L438.7 1368.7L440.3 1366.9L442.0 1365.1L443.6 1363.2L445.2 1361.3L446.8 1359.4L448.4 1357.5L450.0 1355.6L451.5 1353.7L453.1 1351.7L454.6 1349.7L456.1 1347.8L457.7 1345.8L459.2 1343.8L460.6 1341.8L462.1 1339.8L463.6 1337.7L465.1 1335.7L466.5 1333.6L467.9 1331.6L469.4 1329.5L470.8 1327.4L472.2 1325.4L473.6 1323.3L475.1 1321.2L476.5 1319.1L477.9 1317.0L479.3 1314.9L480.6 1312.8L482.0 1310.7L483.4 1308.6L484.8 1306.5L486.2 1304.3L487.6 1302.2L488.9 1300.1L490.3 1298.0L491.7 1295.9L493.1 1293.8L494.5 1291.7L495.8 1289.6L497.2 1287.5L498.6 1285.3L499.9 1283.2L501.3 1281.1L502.7 1279.0L504.0 1276.9L505.4 1274.8L506.7 1272.6L508.1 1270.5L509.4 1268.4L510.8 1266.3L512.1 1264.2L513.4 1262.0L514.7 1259.9L516.1 1257.8L517.4 1255.7L518.7 1253.5L520.0 1251.4L521.3 1249.2L522.6 1247.1L523.9 1245.0L525.2 1242.8L526.4 1240.7L527.7 1238.5L529.0 1236.4L530.2 1234.2L531.5 1232.1L532.7 1229.9L533.9 1227.7L535.1 1225.6L536.3 1223.4L537.6 1221.2L538.7 1219.0L539.9 1216.8L541.1 1214.7L542.3 1212.5L543.4 1210.3L544.6 1208.1L545.7 1205.9L546.8 1203.7L548.0 1201.4L549.1 1199.2L550.2 1197.0L551.2 1194.8L552.3 1192.5L553.4 1190.3L554.4 1188.1L555.5 1185.8L556.5 1183.5L557.5 1181.3L558.5 1179.0L559.5 1176.7L560.4 1174.5L561.4 1172.2L562.4 1169.9L563.3 1167.6L564.2 1165.3L565.1 1163.0L566.0 1160.7L566.9 1158.4L567.8 1156.0L568.7 1153.7L569.5 1151.4L570.4 1149.1L571.2 1146.7L572.1 1144.4L572.9 1142.0L573.7 1139.7L574.5 1137.3L575.3 1135.0L576.1 1132.6L576.9 1130.2L577.6 1127.9L578.4 1125.5L579.2 1123.1L579.9 1120.7L580.6 1118.4L581.4 1116.0L582.1 1113.6L582.8 1111.2L583.6 1108.8L584.3 1106.4L585.0 1104.0L585.7 1101.6L586.4 1099.2L587.1 1096.8L587.8 1094.4L588.5 1092.0L589.1 1089.6L589.8 1087.1L590.5 1084.7L591.2 1082.3L591.8 1079.9L592.5 1077.5L593.2 1075.1L593.8 1072.6L594.5 1070.2L595.2 1067.8L595.8 1065.4L596.5 1062.9L597.1 1060.5L597.8 1058.1L598.4 1055.7L599.1 1053.3L599.8 1050.8L600.4 1048.4L601.1 1046.0L601.7 1043.6L602.4 1041.1L603.0 1038.7L603.7 1036.3L604.4 1033.9L605.0 1031.4L605.7 1029.0L606.4 1026.6L607.0 1024.2L607.7 1021.8L608.4 1019.4L609.1 1016.9L609.8 1014.5L610.4 1012.1L611.1 1009.7L611.8 1007.3L612.5 1004.9L613.2 1002.5L613.9 1000.0L614.6 997.6L615.3 995.2L616.0 992.8L616.7 990.4L617.4 988.0L618.1 985.6L618.8 983.2L619.5 980.8L620.2 978.4L620.9 976.0L621.6 973.6L622.3 971.2L623.0 968.8L623.7 966.4L624.5 964.0L625.2 961.6L625.9 959.2L626.6 956.8L627.3 954.4L628.0 952.0L628.8 949.6L629.5 947.2L630.2 944.8L630.9 942.4L631.7 940.0L632.4 937.6L633.1 935.2L633.9 932.8L634.6 930.4L635.3 928.1L636.0 925.7L636.8 923.3L637.5 920.9L638.2 918.5L639.0 916.1L639.7 913.7L640.4 911.3L641.2 908.9L641.9 906.5L642.6 904.1L643.4 901.8L644.1 899.4L644.9 897.0L645.6 894.6L646.3 892.2L647.1 889.8L647.8 887.4L648.5 885.0L649.3 882.7L650.0 880.3L650.8 877.9L651.5 875.5L652.2 873.1L653.0 870.7L653.7 868.3L654.4 866.0L655.2 863.6L655.9 861.2L656.7 858.8L657.4 856.4L658.1 854.0L658.9 851.6L659.6 849.3L660.3 846.9L661.1 844.5L661.8 842.1L662.5 839.7L663.3 837.3L664.0 834.9L664.7 832.6L665.5 830.2L666.2 827.8L666.9 825.4L667.6 823.0L668.4 820.6L669.1 818.2L669.8 815.9L670.6 813.5L671.3 811.1L672.0 808.7L672.7 806.3L673.4 803.9L674.2 801.5L674.9 799.1L675.6 796.7L676.3 794.4L677.0 792.0L677.7 789.6L678.5 787.2L679.2 784.8L679.9 782.4L680.6 780.0L681.3 777.6L682.0 775.2L682.7 772.8L683.4 770.5L684.1 768.1L684.8 765.7L685.5 763.3L686.2 760.9L686.9 758.5L687.6 756.1L688.3 753.7L688.9 751.3L689.6 748.9L690.3 746.5L691.0 744.1L691.7 741.7L692.4 739.3L693.0 736.9L693.7 734.5L694.4 732.1L695.0 729.7L695.7 727.3L696.4 724.9L697.0 722.5L697.7 720.1L698.4 717.7L699.0 715.3L699.7 712.9L700.3 710.5L701.0 708.1L701.6 705.7L702.2 703.3L702.9 700.9L703.5 698.5L704.2 696.0L704.8 693.6L705.4 691.2L706.0 688.8L706.7 686.4L707.3 684.0L707.9 681.6L708.5 679.2L709.1 676.7L709.7 674.3L710.4 671.9L711.0 669.5L711.6 667.1L712.2 664.6L712.7 662.2L713.3 659.8L713.9 657.4L714.5 655.0L715.1 652.5L715.7 650.1L716.2 647.7L716.8 645.2L717.4 642.8L717.9 640.4L718.5 637.9L719.1 635.5L719.6 633.1L720.2 630.6L720.7 628.2L721.2 625.8L721.8 623.3L722.3 620.9L722.8 618.5L723.4 616.0L723.9 613.6L724.4 611.1L724.9 608.7L725.4 606.2L725.9 603.8L726.4 601.3L727.0 598.9L727.4 596.4L727.9 594.0L728.4 591.5L728.9 589.1L729.4 586.6L729.9 584.2L730.4 581.7L730.8 579.3L731.3 576.8L731.8 574.4L732.3 571.9L732.7 569.4L733.2 567.0L733.6 564.5L734.1 562.1L734.5 559.6L735.0 557.1L735.4 554.7L735.9 552.2L736.3 549.7L736.8 547.3L737.2 544.8L737.6 542.3L738.0 539.9L738.5 537.4L738.9 534.9L739.3 532.5L739.7 530.0L740.2 527.5L740.6 525.0L741.0 522.6L741.4 520.1L741.8 517.6L742.2 515.1L742.6 512.7L743.0 510.2L743.4 507.7L743.8 505.2L744.2 502.8L744.6 500.3L745.0 497.8L745.4 495.3L745.7 492.9L746.1 490.4L746.5 487.9L746.9 485.4L747.3 483.0L747.6 480.5L748.0 478.0L748.4 475.5L748.7 473.0L749.1 470.6L749.5 468.1L749.8 465.6L750.2 463.1L750.6 460.6L750.9 458.1L751.3 455.7L751.6 453.2L752.0 450.7L752.3 448.2L752.7 445.7L753.0 443.3L753.4 440.8L753.7 438.3L754.1 435.8L754.4 433.3L754.8 430.8L755.1 428.4L755.5 425.9L755.8 423.4L756.1 420.9L756.5 418.4L756.8 415.9L757.2 413.5L757.5 411.0L757.8 408.5L758.2 406.0L758.5 403.5L758.8 401.1L759.1 398.6L759.5 396.1L759.8 393.6L760.1 391.1L760.5 388.6L760.8 386.2L761.1 383.7L761.4 381.2L761.8 378.7L762.1 376.2L762.4 373.8L762.7 371.3L763.1 368.8L763.4 366.3L763.7 363.9L764.0 361.4L764.4 358.9L764.7 356.4L765.0 353.9L765.3 351.5L765.6 349.0L766.0 346.5L766.3 344.0L766.6 341.6L766.9 339.1L767.2 336.6L767.6 334.2L767.9 331.7L768.2 329.2L768.5 326.7L768.8 324.3L769.2 321.8L769.5 319.3L769.8 316.9L770.1 314.4L770.4 311.9L770.8 309.5L771.1 307.0L771.4 304.5L771.7 302.1L772.1 299.6L772.4 297.1L772.7 294.7L773.0 292.2L773.4 289.8L773.7 287.3L774.0 284.8L774.3 282.4L774.7 279.9L775.0 277.5L775.3 275.0L775.7 272.6L776.0 270.1L776.3 267.7L776.7 265.2L777.0 262.7L777.3 260.3L777.7 257.8L778.0 255.4L778.3 253.0L778.7 250.5L779.0 248.1L779.4 245.6L779.7 243.2L780.1 240.7L780.4 238.3L780.7 235.9L781.1 233.4L781.4 231.0L781.8 228.5L782.1 226.1L782.5 223.7L782.9 221.2L783.2 218.8L783.6 216.4L783.9 213.9L784.3 211.5L784.7 209.1L785.0 206.7L785.4 204.2L785.8 201.8L786.2 199.3L786.6 196.9L787.0 194.4L787.4 192.0L787.8 189.5L788.2 187.1L788.7 184.6L789.1 182.1L789.6 179.6L790.1 177.1L790.6 174.6L791.1 172.0L791.6 169.5L792.1 166.9L792.7 164.3L793.2 161.7L793.8 159.1L794.4 156.5L795.1 153.9L795.7 151.2L796.4 148.5L797.1 145.8L797.8 143.1L798.5 140.4L799.3 137.6L800.0 134.8L800.9 132.0L801.7 129.2L802.5 126.3L803.4 123.5L804.3 120.7L805.3 117.9L806.3 115.2L807.2 112.5L808.3 110.0L809.3 107.6L810.4 105.4L811.5 103.3L812.6 101.5L813.8 99.8L814.9 98.4L816.1 97.3L817.4 96.4L818.6 95.9L819.9 95.7L821.2 95.8L822.6 96.2L823.9 97.0L825.3 98.0L826.6 99.3L828.0 100.9L829.3 102.6L830.7 104.6L832.0 106.8L833.3 109.1L834.6 111.6L835.8 114.1L837.0 116.8L838.1 119.6L839.2 122.4L840.2 125.2L841.1 128.1L842.0 130.9L842.8 133.7L843.5 136.5L844.2 139.3L844.8 142.1L845.3 144.8L845.8 147.5L846.2 150.2L846.6 152.8L847.0 155.5L847.4 158.1L847.7 160.7L848.0 163.3L848.2 165.8L848.5 168.4L848.8 170.9L849.1 173.4L849.3 175.9L849.6 178.4L849.9 180.9L850.2 183.3L850.5 185.8L850.8 188.2L851.2 190.7L851.5 193.1L851.8 195.5L852.2 197.9L852.5 200.3L852.9 202.7L853.2 205.1L853.6 207.5L853.9 209.9L854.3 212.3L854.6 214.7L854.9 217.1L855.3 219.6L855.6 222.0L855.9 224.4L856.3 226.8L856.6 229.3L856.9 231.7L857.2 234.2L857.5 236.6L857.8 239.1L858.1 241.5L858.4 244.0L858.7 246.5L859.0 248.9L859.3 251.4L859.6 253.9L859.9 256.4L860.2 258.8L860.5 261.3L860.8 263.8L861.0 266.3L861.3 268.8L861.6 271.3L861.9 273.8L862.1 276.3L862.4 278.8L862.7 281.2L863.0 283.7L863.2 286.2L863.5 288.7L863.7 291.2L864.0 293.7L864.3 296.2L864.5 298.7L864.8 301.2L865.0 303.7L865.3 306.2L865.5 308.7L865.8 311.2L866.0 313.7L866.3 316.2L866.5 318.7L866.8 321.2L867.0 323.7L867.3 326.2L867.5 328.7L867.8 331.2L868.0 333.7L868.3 336.2L868.5 338.7L868.7 341.2L869.0 343.7L869.2 346.2L869.4 348.6L869.7 351.1L869.9 353.6L870.1 356.1L870.4 358.6L870.6 361.1L870.8 363.6L871.1 366.1L871.3 368.6L871.5 371.1L871.7 373.6L872.0 376.1L872.2 378.6L872.4 381.1L872.6 383.6L872.9 386.1L873.1 388.6L873.3 391.0L873.5 393.5L873.7 396.0L874.0 398.5L874.2 401.0L874.4 403.5L874.6 406.0L874.8 408.5L875.0 411.0L875.2 413.5L875.5 416.0L875.7 418.5L875.9 421.0L876.1 423.5L876.3 426.0L876.5 428.4L876.7 430.9L876.9 433.4L877.1 435.9L877.3 438.4L877.6 440.9L877.8 443.4L878.0 445.9L878.2 448.4L878.4 450.9L878.6 453.4L878.8 455.9L879.0 458.3L879.2 460.8L879.4 463.3L879.6 465.8L879.8 468.3L880.0 470.8L880.2 473.3L880.4 475.8L880.6 478.3L880.8 480.8L881.0 483.3L881.2 485.7L881.4 488.2L881.6 490.7L881.8 493.2L882.0 495.7L882.2 498.2L882.4 500.7L882.6 503.2L882.8 505.7L883.0 508.2L883.2 510.6L883.3 513.1L883.5 515.6L883.7 518.1L883.9 520.6L884.1 523.1L884.3 525.6L884.5 528.1L884.7 530.6L884.9 533.1L885.1 535.5L885.3 538.0L885.5 540.5L885.7 543.0L885.9 545.5L886.1 548.0L886.3 550.5L886.5 553.0L886.6 555.5L886.8 557.9L887.0 560.4L887.2 562.9L887.4 565.4L887.6 567.9L887.8 570.4L888.0 572.9L888.2 575.4L888.4 577.9L888.6 580.3L888.8 582.8L889.0 585.3L889.2 587.8L889.4 590.3L889.5 592.8L889.7 595.3L889.9 597.8L890.1 600.2L890.3 602.7L890.5 605.2L890.7 607.7L890.9 610.2L891.1 612.7L891.3 615.2L891.5 617.7L891.7 620.1L891.9 622.6L892.1 625.1L892.3 627.6L892.5 630.1L892.7 632.6L892.9 635.1L893.0 637.6L893.2 640.0L893.4 642.5L893.6 645.0L893.8 647.5L894.0 650.0L894.2 652.5L894.4 655.0L894.6 657.5L894.8 659.9L895.0 662.4L895.2 664.9L895.4 667.4L895.6 669.9L895.8 672.4L896.0 674.9L896.2 677.4L896.4 679.8L896.6 682.3L896.8 684.8L897.0 687.3L897.2 689.8L897.4 692.3L897.6 694.8L897.7 697.3L897.9 699.7L898.1 702.2L898.3 704.7L898.5 707.2L898.7 709.7L898.9 712.2L899.1 714.7L899.3 717.1L899.5 719.6L899.7 722.1L899.9 724.6L900.1 727.1L900.3 729.6L900.5 732.1L900.7 734.6L900.9 737.0L901.1 739.5L901.3 742.0L901.5 744.5L901.7 747.0L901.9 749.5L902.1 752.0L902.3 754.5L902.5 756.9L902.7 759.4L902.9 761.9L903.1 764.4L903.3 766.9L903.5 769.4L903.7 771.9L903.9 774.4L904.1 776.8L904.3 779.3L904.5 781.8L904.7 784.3L904.9 786.8L905.1 789.3L905.3 791.8L905.5 794.3L905.7 796.8L905.9 799.2L906.1 801.7L906.3 804.2L906.5 806.7L906.7 809.2L906.9 811.7L907.1 814.2L907.3 816.7L907.5 819.1L907.7 821.6L907.9 824.1L908.1 826.6L908.3 829.1L908.5 831.6L908.7 834.1L908.9 836.6L909.1 839.1L909.3 841.5L909.5 844.0L909.7 846.5L909.9 849.0L910.1 851.5L910.3 854.0L910.5 856.5L910.7 859.0L910.9 861.5L911.1 864.0L911.3 866.4L911.5 868.9L911.7 871.4L911.9 873.9L912.1 876.4L912.3 878.9L912.5 881.4L912.8 883.9L913.0 886.4L913.2 888.9L913.4 891.3L913.6 893.8L913.8 896.3L914.0 898.8L914.2 901.3L914.4 903.8L914.6 906.3L914.8 908.8L915.0 911.3L915.2 913.8L915.4 916.3L915.6 918.8L915.8 921.2L916.0 923.7L916.2 926.2L916.4 928.7L916.6 931.2L916.8 933.7L917.1 936.2L917.3 938.7L917.5 941.2L917.7 943.7L917.9 946.2L918.1 948.7L918.3 951.2L918.5 953.6L918.7 956.1L918.9 958.6L919.1 961.1L919.4 963.6L919.6 966.1L919.8 968.6L920.0 971.1L920.2 973.6L920.4 976.1L920.6 978.6L920.9 981.1L921.1 983.6L921.3 986.0L921.5 988.5L921.7 991.0L922.0 993.5L922.2 996.0L922.4 998.5L922.6 1001.0L922.8 1003.5L923.1 1006.0L923.3 1008.5L923.5 1011.0L923.7 1013.5L924.0 1015.9L924.2 1018.4L924.4 1020.9L924.7 1023.4L924.9 1025.9L925.1 1028.4L925.4 1030.9L925.6 1033.4L925.8 1035.9L926.1 1038.4L926.3 1040.9L926.6 1043.3L926.8 1045.8L927.1 1048.3L927.3 1050.8L927.5 1053.3L927.8 1055.8L928.0 1058.3L928.3 1060.8L928.6 1063.3L928.8 1065.7L929.1 1068.2L929.3 1070.7L929.6 1073.2L929.8 1075.7L930.1 1078.2L930.4 1080.7L930.6 1083.1L930.9 1085.6L931.2 1088.1L931.4 1090.6L931.7 1093.1L932.0 1095.6L932.3 1098.1L932.5 1100.5L932.8 1103.0L933.1 1105.5L933.4 1108.0L933.7 1110.5L934.0 1113.0L934.3 1115.4L934.5 1117.9L934.8 1120.4L935.1 1122.9L935.4 1125.4L935.7 1127.8L936.0 1130.3L936.3 1132.8L936.6 1135.3L936.9 1137.8L937.3 1140.2L937.6 1142.7L937.9 1145.2L938.2 1147.7L938.5 1150.1L938.8 1152.6L939.2 1155.1L939.5 1157.6L939.8 1160.0L940.2 1162.5L940.5 1165.0L940.8 1167.5L941.2 1169.9L941.5 1172.4L941.8 1174.9L942.2 1177.4L942.5 1179.8L942.9 1182.3L943.2 1184.8L943.6 1187.2L944.0 1189.7L944.3 1192.2L944.7 1194.6L945.1 1197.1L945.4 1199.6L945.8 1202.0L946.2 1204.5L946.6 1207.0L946.9 1209.4L947.3 1211.9L947.7 1214.4L948.1 1216.8L948.5 1219.3L948.9 1221.8L949.3 1224.2L949.7 1226.7L950.1 1229.1L950.5 1231.6L950.9 1234.1L951.3 1236.5L951.7 1239.0L952.2 1241.4L952.6 1243.9L953.0 1246.3L953.4 1248.8L953.9 1251.3L954.3 1253.7L954.7 1256.2L955.2 1258.6L955.6 1261.1L956.1 1263.5L956.5 1266.0L957.0 1268.4L957.4 1270.9L957.9 1273.3L958.4 1275.8L958.8 1278.2L959.3 1280.7L959.8 1283.1L960.3 1285.6L960.8 1288.0L961.2 1290.4L961.7 1292.9L962.2 1295.3L962.7 1297.8L963.2 1300.2L963.7 1302.7L964.2 1305.1L964.8 1307.5L965.3 1310.0L965.8 1312.4L966.3 1314.8L966.9 1317.3L967.4 1319.7L967.9 1322.1L968.5 1324.6L969.0 1327.0L969.6 1329.4L970.1 1331.9L970.7 1334.3L971.2 1336.7L971.8 1339.2L972.4 1341.6L973.0 1344.0L973.6 1346.4L974.2 1348.8L974.8 1351.3L975.4 1353.7L976.0 1356.1L976.7 1358.5L977.3 1360.9L977.9 1363.3L978.6 1365.7L979.3 1368.1L979.9 1370.5L980.6 1372.9L981.3 1375.3L982.0 1377.7L982.7 1380.1L983.5 1382.5L984.2 1384.9L984.9 1387.3L985.7 1389.7L986.5 1392.1L987.2 1394.4L988.0 1396.8L988.8 1399.2L989.6 1401.6L990.5 1403.9L991.3 1406.3L992.1 1408.6L993.0 1411.0L993.9 1413.4L994.8 1415.7L995.7 1418.1L996.6 1420.4L997.5 1422.7L998.5 1425.1L999.4 1427.4L1000.4 1429.7L1001.4 1432.1L1002.4 1434.4L1003.5 1436.7L1004.5 1439.0L1005.5 1441.3L1006.6 1443.6L1007.7 1445.9L1008.8 1448.2L1009.9 1450.5L1011.1 1452.8L1012.2 1455.1L1013.4 1457.3L1014.6 1459.6L1015.8 1461.8L1017.1 1464.0L1018.3 1466.2L1019.6 1468.4L1020.9 1470.5L1022.2 1472.7L1023.6 1474.8L1025.0 1476.9L1026.3 1479.0L1027.7 1481.1L1029.2 1483.2L1030.6 1485.2L1032.1 1487.2L1033.6 1489.2L1035.2 1491.1L1036.7 1493.1L1038.3 1495.0L1039.9 1496.8L1041.5 1498.7L1043.2 1500.5L1044.9 1502.3L1046.6 1504.0L1048.3 1505.7L1050.1 1507.4L1051.9 1509.0L1053.7 1510.7L1055.6 1512.2L1057.4 1513.8L1059.4 1515.3L1061.3 1516.7L1063.2 1518.2L1065.2 1519.6L1067.2 1521.0L1069.3 1522.3L1071.3 1523.6L1073.4 1524.9L1075.5 1526.1L1077.6 1527.3L1079.8 1528.5L1081.9 1529.7L1084.1 1530.8L1086.3 1531.9L1088.5 1533.0L1090.8 1534.0L1093.0 1535.1L1095.3 1536.0L1097.6 1537.0L1099.9 1537.9L1102.2 1538.9L1104.6 1539.7L1106.9 1540.6L1109.3 1541.5L1111.6 1542.3L1114.0 1543.1L1116.4 1543.8L1118.9 1544.6L1121.3 1545.3L1123.7 1546.0L1126.1 1546.7L1128.6 1547.4L1131.1 1548.0L1133.5 1548.6L1136.0 1549.2L1138.5 1549.8L1141.0 1550.4L1143.5 1551.0L1145.9 1551.5L1148.4 1552.0L1151.0 1552.5L1153.5 1553.0L1156.0 1553.5L1158.5 1553.9L1161.0 1554.4L1163.5 1554.8L1166.0 1555.2L1168.5 1555.6L1171.0 1556.0L1173.6 1556.4L1176.1 1556.8L1178.6 1557.1L1181.1 1557.5L1183.6 1557.8L1186.1 1558.1L1188.6 1558.4L1191.1 1558.7L1193.6 1559.0L1196.1 1559.3L1198.6 1559.6L1201.1 1559.8L1203.6 1560.1L1206.1 1560.3L1208.6 1560.6L1211.1 1560.8L1213.6 1561.0L1216.1 1561.2L1218.5 1561.4L1221.0 1561.6L1223.5 1561.8L1226.0 1562.0L1228.5 1562.2L1231.0 1562.3L1233.5 1562.5L1236.0 1562.7L1238.4 1562.8L1240.9 1562.9L1243.4 1563.1L1245.9 1563.2L1248.4 1563.3L1250.9 1563.5L1253.3 1563.6L1255.8 1563.7L1258.3 1563.8L1260.8 1563.9L1263.3 1564.0L1265.8 1564.1L1268.2 1564.2L1270.7 1564.3L1273.2 1564.4L1275.7 1564.5L1278.2 1564.6L1280.7 1564.7L1283.1 1564.8L1285.6 1564.8L1288.1 1564.9L1290.6 1565.0L1293.1 1565.1L1295.5 1565.2L1298.0 1565.3L1300.5 1565.3L1303.0 1565.4L1305.5 1565.5L1308.0 1565.6L1310.4 1565.7L1312.9 1565.7L1315.4 1565.8L1317.9 1565.9L1320.4 1566.0L1322.9 1566.1L1325.4 1566.2L1327.8 1566.2L1330.3 1566.3L1332.8 1566.4L1335.3 1566.5L1337.8 1566.6L1340.3 1566.7L1342.8 1566.8L1345.3 1566.8L1347.8 1566.9L1350.2 1567.0L1352.7 1567.1L1355.2 1567.2L1357.7 1567.3L1360.2 1567.4L1362.7 1567.4L1365.2 1567.5L1367.7 1567.6L1370.2 1567.7L1372.7 1567.8L1375.2 1567.9L1377.6 1568.0L1380.1 1568.1L1382.6 1568.1L1385.1 1568.2L1387.6 1568.3L1390.1 1568.4L1392.6 1568.5L1395.1 1568.6L1397.6 1568.7L1400.1 1568.7L1402.6 1568.8L1405.1 1568.9L1407.6 1569.0L1410.1 1569.1L1412.6 1569.2L1415.1 1569.3L1417.6 1569.3L1420.1 1569.4L1422.6 1569.5L1425.1 1569.6L1427.5 1569.7L1430.0 1569.8L1432.5 1569.9L1435.0 1569.9L1437.5 1570.0L1440.0 1570.1L1442.5 1570.2L1445.0 1570.3L1447.5 1570.4L1450.0 1570.4L1452.5 1570.5L1455.0 1570.6L1457.5 1570.7L1460.0 1570.8L1462.5 1570.8L1465.0 1570.9L1467.5 1571.0L1470.0 1571.1L1472.5 1571.2L1475.0 1571.2L1477.5 1571.3L1480.0 1571.4L1482.5 1571.5L1485.0 1571.6L1487.5 1571.6L1490.0 1571.7L1492.5 1571.8L1495.0 1571.9L1497.5 1571.9L1500.0 1572.0L1502.5 1572.1L1505.0 1572.1L1507.5 1572.2L1510.0 1572.3L1512.5 1572.4L1515.0 1572.4L1517.5 1572.5L1520.0 1572.6L1522.6 1572.6L1525.1 1572.7L1527.6 1572.8L1530.1 1572.8L1532.6 1572.9L1535.1 1573.0L1537.6 1573.0L1540.1 1573.1L1542.6 1573.2L1545.1 1573.2L1547.6 1573.3L1550.1 1573.3L1552.6 1573.4L1555.1 1573.5L1557.6 1573.5L1560.1 1573.6L1562.6 1573.6L1565.1 1573.7L1567.6 1573.7L1570.1 1573.8L1572.6 1573.9L1575.1 1573.9L1577.6 1574.0L1580.1 1574.0L1582.6 1574.1L1585.1 1574.1L1587.6 1574.2L1590.1 1574.2L1592.6 1574.3L1595.1 1574.3L1597.6 1574.3L1600.1 1574.4L1602.6 1574.4L1605.2 1574.5L1607.7 1574.5L1610.2 1574.5L1612.7 1574.6L1615.2 1574.6L1617.7 1574.7L1620.2 1574.7L1622.7 1574.7L1625.2 1574.8L1627.7 1574.8L1630.2 1574.8L1632.7 1574.9L1635.2 1574.9L1637.7 1574.9L1640.2 1574.9L1642.7 1575.0L1645.2 1575.0L1647.7 1575.0L1650.2 1575.0L1652.7 1575.0L1655.2 1575.1L1657.7 1575.1L1660.2 1575.1L1662.7 1575.1L1665.2 1575.1L1667.7 1575.1L1670.2 1575.1L1672.7 1575.2L1675.2 1575.2L1677.7 1575.2L1680.2 1575.2L1682.7 1575.2L1685.2 1575.2L1687.7 1575.2L1690.2 1575.2L1692.7 1575.2L1695.2 1575.2L1697.7 1575.2L1700.2 1575.2L1702.7 1575.2L1705.2 1575.2L1707.7 1575.1L1710.2 1575.1L1712.7 1575.1L1715.2 1575.1L1717.7 1575.1L1720.2 1575.1L1722.7 1575.1L1725.2 1575.0L1727.7 1575.0L1730.2 1575.0L1732.7 1575.0L1735.2 1574.9L1737.7 1574.9L1740.2 1574.9L1742.7 1574.9L1745.2 1574.8L1747.7 1574.8L1750.2 1574.7L1752.7 1574.7L1755.2 1574.7L1757.7 1574.6L1760.2 1574.6L1762.7 1574.5L1765.2 1574.5L1767.7 1574.4L1770.2 1574.4L1772.7 1574.3L1775.2 1574.3L1777.7 1574.2L1780.2 1574.2L1782.7 1574.1L1785.2 1574.1L1787.7 1574.0L1790.1 1573.9L1792.6 1573.9L1795.1 1573.8L1797.6 1573.7L1800.1 1573.7L1802.6 1573.6L1805.1 1573.5L1807.6 1573.4L1810.1 1573.3L1812.6 1573.3L1815.1 1573.2L1817.6 1573.1L1820.1 1573.0L1822.5 1572.9L1825.0 1572.8L1827.5 1572.7L1830.0 1572.6L1832.5 1572.5L1835.0 1572.4L1837.5 1572.3L1840.0 1572.2L1842.5 1572.1L1844.9 1572.0L1847.4 1571.9L1849.9 1571.8L1852.4 1571.7L1854.9 1571.6L1857.4 1571.4L1859.9 1571.3L1862.4 1571.2L1864.8 1571.1" stroke="#0071e5" stroke-width="10.5"/>
<path d="M718.6 1575.4L721.3 1575.5L723.9 1575.5L726.4 1575.4L729.0 1575.2L731.5 1575.0L733.9 1574.6L736.4 1574.2L738.8 1573.7L741.1 1573.1L743.5 1572.5L745.8 1571.7M754.7 1568.2L756.9 1567.2L759.1 1566.1L761.2 1565.0L763.3 1563.8L765.4 1562.5L767.5 1561.3L769.6 1559.9L771.6 1558.6L773.7 1557.2L775.7 1555.7L777.7 1554.3L779.7 1552.8L781.7 1551.2L783.6 1549.7M816.8 1521.7L818.8 1520.1L820.8 1518.5L822.8 1516.9L824.9 1515.4L826.9 1513.9L828.9 1512.4L831.0 1510.9L833.1 1509.5L835.2 1508.1L837.2 1506.7L839.3 1505.3L841.5 1504.0L843.6 1502.7L845.7 1501.4M885.7 1484.4L888.0 1483.8L890.3 1483.3L892.6 1482.8L895.0 1482.4L897.3 1482.0L899.7 1481.6L902.0 1481.4L904.4 1481.1L906.8 1480.9L909.1 1480.8L911.5 1480.7L913.9 1480.7L916.3 1480.7L918.7 1480.8M960.6 1488.4L963.1 1489.1L965.6 1489.8L968.1 1490.4L970.6 1491.1L973.1 1491.7L975.6 1492.4L978.0 1493.0L980.5 1493.7L983.0 1494.3L985.5 1494.9L988.0 1495.5L990.5 1496.1L992.9 1496.7L995.4 1497.2M1034.9 1504.8L1037.3 1505.2L1039.8 1505.6L1042.3 1506.0L1044.7 1506.3L1047.2 1506.7L1049.6 1507.1L1052.1 1507.4L1054.6 1507.8L1057.0 1508.2L1059.5 1508.5L1062.0 1508.8L1064.4 1509.2M1111.4 1514.8L1113.9 1515.0L1116.4 1515.3L1118.8 1515.5L1121.3 1515.7L1123.8 1516.0L1126.3 1516.2L1128.8 1516.4L1131.3 1516.7L1133.7 1516.9L1136.2 1517.1L1138.7 1517.3L1141.2 1517.5L1143.7 1517.7L1146.2 1517.9M1188.5 1520.8L1191.0 1520.9L1193.5 1521.0L1196.0 1521.1L1198.5 1521.3L1201.0 1521.4L1203.5 1521.5L1206.0 1521.6L1208.5 1521.7L1211.0 1521.8L1213.5 1521.9L1216.0 1522.0L1218.4 1522.1L1220.9 1522.2L1223.4 1522.3M1265.9 1523.1L1268.4 1523.1L1270.9 1523.2L1273.4 1523.2L1275.9 1523.2L1278.4 1523.2L1280.9 1523.2L1283.4 1523.2L1285.9 1523.2L1288.4 1523.2L1290.9 1523.2L1293.4 1523.2L1295.9 1523.2L1298.4 1523.2L1300.9 1523.2M1340.8 1522.9L1343.3 1522.9L1345.8 1522.9L1348.3 1522.9L1350.8 1522.9L1353.3 1522.9L1355.8 1522.9L1358.3 1522.9L1360.8 1522.9L1363.3 1522.9L1365.8 1522.9L1368.3 1522.9L1370.8 1522.9L1373.3 1522.9L1375.8 1523.0M1418.2 1523.9L1420.7 1524.0L1423.2 1524.0L1425.7 1524.1L1428.2 1524.2L1430.7 1524.3L1433.2 1524.4L1435.7 1524.5L1438.2 1524.7L1440.7 1524.8L1443.2 1524.9L1445.7 1525.0L1448.2 1525.1L1450.6 1525.3L1453.1 1525.4M1493.0 1528.0L1495.5 1528.2L1498.0 1528.4L1500.5 1528.6L1503.0 1528.8L1505.5 1529.0L1507.9 1529.2L1510.4 1529.4L1512.9 1529.6L1515.4 1529.8L1517.9 1530.1L1520.4 1530.3L1522.9 1530.5L1525.4 1530.7L1527.8 1531.0L1530.3 1531.2M1572.5 1535.5L1575.0 1535.8L1577.5 1536.1L1580.0 1536.3L1582.5 1536.6L1585.0 1536.9L1587.4 1537.2L1589.9 1537.4L1592.4 1537.7L1594.9 1538.0L1597.4 1538.3L1599.8 1538.5L1602.3 1538.8L1604.8 1539.1L1607.3 1539.4M1649.5 1544.0L1652.0 1544.3L1654.4 1544.6L1656.9 1544.8L1659.4 1545.1L1661.9 1545.3L1664.4 1545.6L1666.9 1545.9L1669.3 1546.1L1671.8 1546.4L1674.3 1546.6L1676.8 1546.9L1679.3 1547.1M1726.5 1551.5L1729.0 1551.7L1731.5 1551.9L1734.0 1552.1L1736.5 1552.3L1738.9 1552.5L1741.4 1552.7L1743.9 1552.9L1746.4 1553.1L1748.9 1553.3L1751.4 1553.5L1753.9 1553.7L1756.4 1553.8M1801.2 1557.0L1803.7 1557.1L1806.2 1557.3L1808.7 1557.4L1811.2 1557.6L1813.7 1557.7L1816.2 1557.9L1818.6 1558.0L1821.1 1558.2L1823.6 1558.3L1826.1 1558.5L1828.6 1558.6L1831.1 1558.8L1833.6 1558.9M1878.5 1561.3L1881.0 1561.4L1883.5 1561.6L1886.0 1561.7L1888.5 1561.8L1891.0 1561.9L1893.5 1562.0L1896.0 1562.2L1898.4 1562.3L1900.9 1562.4L1903.4 1562.5L1905.9 1562.6L1908.4 1562.7L1910.9 1562.9L1913.4 1563.0M1950.8 1564.6L1953.3 1564.7L1955.8 1564.8L1958.3 1564.9L1960.8 1565.0L1963.3 1565.1L1965.8 1565.2L1968.3 1565.3L1970.8 1565.4L1973.3 1565.5L1975.8 1565.6L1978.3 1565.7L1980.8 1565.8L1983.3 1565.9L1985.8 1566.0L1988.3 1566.1L1990.8 1566.2M2028.2 1567.7L2030.7 1567.8L2033.2 1567.9L2035.7 1568.0L2038.2 1568.1L2040.7 1568.2L2043.2 1568.3L2045.7 1568.4L2048.2 1568.5L2050.7 1568.6L2053.2 1568.7L2055.7 1568.8L2058.1 1568.9L2060.6 1569.0L2063.1 1569.1L2065.6 1569.2L2068.1 1569.3M2105.5 1570.8L2108.0 1570.9L2110.5 1571.0L2113.0 1571.1L2115.5 1571.2L2118.0 1571.4L2120.5 1571.5L2123.0 1571.6L2125.5 1571.7L2128.0 1571.8L2130.5 1571.9L2132.9 1572.0" stroke="#4f4f4f" stroke-width="7.2"/>
<path d="M720.8 1575.3L723.3 1575.5L725.9 1575.5L728.4 1575.5L731.0 1575.5L733.5 1575.3L735.9 1575.1L738.4 1574.9L740.8 1574.5L743.3 1574.1L745.7 1573.7L748.1 1573.2L750.4 1572.6L752.8 1572.0L755.1 1571.3L757.5 1570.6M791.0 1554.8L793.2 1553.6L795.3 1552.3L797.5 1551.0L799.7 1549.7L801.8 1548.4L804.0 1547.1L806.1 1545.8L808.3 1544.5L810.5 1543.3L812.6 1542.0L814.8 1540.7L817.0 1539.4L819.1 1538.2L821.3 1537.0M861.5 1519.3L863.8 1518.6L866.2 1518.0L868.5 1517.4L870.8 1516.9L873.2 1516.4L875.5 1516.0L877.9 1515.6L880.3 1515.3L882.7 1515.0L885.1 1514.7L887.5 1514.5L889.9 1514.4L892.3 1514.3L894.7 1514.2M936.9 1516.7L939.4 1517.0L941.9 1517.2L944.4 1517.5L946.9 1517.7L949.4 1518.0L951.9 1518.2L954.4 1518.4L956.9 1518.7L959.4 1518.9L961.9 1519.2L964.4 1519.4L966.9 1519.7L969.4 1519.9M1011.7 1523.4L1014.2 1523.6L1016.7 1523.8L1019.2 1523.9L1021.7 1524.1L1024.2 1524.2L1026.7 1524.4L1029.2 1524.5L1031.7 1524.7L1034.2 1524.8L1036.7 1524.9L1039.2 1525.0L1041.7 1525.1L1044.2 1525.2L1046.7 1525.3M1089.3 1525.8L1091.9 1525.7L1094.4 1525.6L1096.9 1525.5L1099.4 1525.4L1101.9 1525.3L1104.4 1525.2L1106.9 1525.1L1109.4 1524.9L1111.8 1524.8L1114.3 1524.6L1116.8 1524.4L1119.3 1524.2L1121.8 1524.0L1124.3 1523.8M1163.6 1518.0L1166.0 1517.5L1168.5 1517.0L1170.9 1516.5L1173.3 1515.9L1175.7 1515.4L1178.1 1514.8L1180.5 1514.1L1182.9 1513.5L1185.3 1512.9L1187.7 1512.2L1190.1 1511.5L1192.5 1510.9L1194.9 1510.1L1197.2 1509.4M1237.0 1495.0L1239.3 1494.0L1241.6 1493.0L1243.9 1492.0L1246.2 1491.0L1248.5 1490.0L1250.8 1489.0L1253.1 1488.0L1255.3 1486.9L1257.6 1485.9L1259.9 1484.8L1262.2 1483.7L1264.4 1482.6M1300.3 1464.5L1302.5 1463.3L1304.7 1462.1L1307.0 1461.0L1309.2 1459.8L1311.4 1458.6L1313.7 1457.5L1315.9 1456.3L1318.1 1455.2L1320.4 1454.0L1322.6 1452.8L1324.8 1451.7L1327.1 1450.6L1329.3 1449.4M1367.8 1431.4L1370.1 1430.5L1372.4 1429.5L1374.8 1428.6L1377.1 1427.7L1379.4 1426.8L1381.7 1425.9L1384.1 1425.0L1386.4 1424.2L1388.7 1423.3L1391.1 1422.5L1393.5 1421.7L1395.8 1420.9L1398.2 1420.1M1434.1 1410.0L1436.5 1409.5L1438.9 1408.9L1441.4 1408.4L1443.8 1407.9L1446.2 1407.3L1448.7 1406.8L1451.1 1406.4L1453.6 1405.9L1456.0 1405.4L1458.5 1405.0L1460.9 1404.5L1463.4 1404.1L1465.8 1403.7L1468.3 1403.3M1512.9 1398.3L1515.4 1398.1L1517.9 1397.9L1520.4 1397.8L1522.9 1397.7L1525.4 1397.6L1527.9 1397.5L1530.4 1397.4L1532.8 1397.3L1535.3 1397.2L1537.8 1397.1L1540.3 1397.1L1542.8 1397.1M1585.2 1398.1L1587.7 1398.2L1590.2 1398.4L1592.7 1398.6L1595.2 1398.8L1597.7 1399.0L1600.1 1399.2L1602.6 1399.4L1605.1 1399.6L1607.6 1399.9M1647.1 1404.8L1649.6 1405.2L1652.0 1405.6L1654.5 1405.9L1657.0 1406.3L1659.4 1406.7L1661.9 1407.1L1664.3 1407.6L1666.8 1408.0L1669.2 1408.4L1671.7 1408.8M1703.6 1414.9L1706.0 1415.4L1708.5 1415.9L1710.9 1416.4L1713.4 1416.9L1715.8 1417.4L1718.3 1417.9L1720.7 1418.4L1723.2 1418.9L1725.6 1419.5L1728.0 1420.0L1730.5 1420.5L1732.9 1421.0M1776.9 1430.7L1779.3 1431.3L1781.7 1431.8L1784.2 1432.4L1786.6 1432.9L1789.0 1433.5L1791.5 1434.0L1793.9 1434.5L1796.4 1435.1L1798.8 1435.6L1801.2 1436.2M1842.7 1445.2L1845.1 1445.8L1847.5 1446.3L1850.0 1446.8L1852.4 1447.3L1854.8 1447.9L1857.3 1448.4L1859.7 1448.9L1862.2 1449.4M1898.7 1457.2L1901.2 1457.7L1903.6 1458.2L1906.0 1458.7L1908.5 1459.2L1910.9 1459.7L1913.4 1460.2L1915.8 1460.7L1918.2 1461.3L1920.7 1461.8L1923.1 1462.3L1925.6 1462.8L1928.0 1463.3M1962.2 1470.1L1964.6 1470.6L1967.1 1471.1L1969.5 1471.6L1972.0 1472.1L1974.4 1472.5L1976.9 1473.0L1979.3 1473.5L1981.8 1474.0L1984.2 1474.4L1986.7 1474.9L1989.1 1475.4M2018.5 1480.9L2021.0 1481.4L2023.4 1481.8L2025.9 1482.3L2028.3 1482.7L2030.8 1483.2L2033.2 1483.6L2035.7 1484.1L2038.1 1484.5L2040.6 1484.9L2043.0 1485.4L2045.5 1485.8L2048.0 1486.3L2050.4 1486.7L2052.9 1487.1M2092.3 1493.8L2094.8 1494.2L2097.2 1494.6L2099.7 1495.0L2102.2 1495.5L2104.6 1495.8L2107.1 1496.2L2109.6 1496.6L2112.1 1497.0L2114.5 1497.4L2117.0 1497.8" stroke="#ff3c3c" stroke-width="7.2"/>
<path d="M699.9 1572.6L702.4 1573.0L705.0 1573.4L707.5 1573.7L710.0 1573.9L712.6 1574.1L715.1 1574.2L717.7 1574.2L720.2 1574.2L722.7 1574.1L725.3 1574.0L727.8 1573.8L730.3 1573.5L732.8 1573.2L735.3 1572.8M773.0 1559.5L775.2 1558.2L777.3 1556.9L779.4 1555.6L781.5 1554.2L783.5 1552.8L785.5 1551.3L787.5 1549.8L789.4 1548.2L791.3 1546.6L793.2 1545.0L795.0 1543.3L796.8 1541.6L798.5 1539.9M825.4 1498.9L826.5 1496.6L827.6 1494.4L828.6 1492.1L829.7 1489.8L830.7 1487.5L831.7 1485.2L832.7 1482.9L833.7 1480.6L834.7 1478.2L835.7 1475.9L836.7 1473.6L837.7 1471.3M853.7 1434.2L854.7 1431.9L855.7 1429.6L856.7 1427.3L857.7 1425.0L858.7 1422.7L859.7 1420.4L860.7 1418.1L861.7 1415.8L862.7 1413.5L863.7 1411.2L864.7 1408.9L865.7 1406.6L866.7 1404.3M883.7 1365.3L884.7 1363.0L885.6 1360.8L886.6 1358.5L887.6 1356.2L888.6 1353.9L889.6 1351.6L890.6 1349.3L891.5 1347.0L892.5 1344.7L893.5 1342.4L894.5 1340.1L895.4 1337.8L896.4 1335.5L897.4 1333.2M913.5 1294.1L914.4 1291.8L915.4 1289.5L916.3 1287.2L917.2 1284.9L918.1 1282.5L919.0 1280.2L919.9 1277.9L920.8 1275.6L921.7 1273.3L922.6 1270.9L923.5 1268.6L924.4 1266.3L925.3 1264.0L926.2 1261.7M940.8 1221.9L941.6 1219.6L942.5 1217.2L943.3 1214.9L944.1 1212.5L944.9 1210.2L945.7 1207.8L946.6 1205.5L947.4 1203.1L948.2 1200.8L949.0 1198.4L949.8 1196.1L950.6 1193.7M963.8 1153.5L964.5 1151.1L965.3 1148.7L966.0 1146.3L966.8 1143.9L967.5 1141.6L968.3 1139.2L969.0 1136.8L969.7 1134.4L970.5 1132.0L971.2 1129.7L971.9 1127.3L972.7 1124.9L973.4 1122.5L974.1 1120.1M986.7 1077.0L987.3 1074.6L988.0 1072.2L988.7 1069.8L989.3 1067.4L990.0 1065.0L990.7 1062.5L991.3 1060.1L992.0 1057.7L992.7 1055.3L993.3 1052.9L994.0 1050.5L994.6 1048.1L995.3 1045.7M1006.6 1002.1L1007.2 999.7L1007.8 997.3L1008.5 994.9L1009.1 992.5L1009.7 990.0L1010.3 987.6L1010.9 985.2L1011.5 982.7L1012.1 980.3L1012.7 977.9L1013.3 975.5L1013.8 973.0L1014.4 970.6M1024.8 926.8L1025.3 924.3L1025.9 921.9L1026.4 919.5L1027.0 917.0L1027.5 914.6L1028.1 912.2L1028.6 909.7L1029.2 907.3L1029.7 904.8L1030.3 902.4L1030.8 899.9L1031.4 897.5L1031.9 895.1M1041.4 851.1L1041.9 848.6L1042.4 846.2L1043.0 843.7L1043.5 841.3L1044.0 838.8L1044.5 836.4L1045.0 833.9L1045.5 831.5L1046.0 829.0L1046.5 826.6L1047.0 824.1L1047.5 821.7L1048.0 819.3M1056.9 775.2L1057.4 772.7L1057.9 770.3L1058.4 767.8L1058.9 765.4L1059.3 762.9L1059.8 760.5L1060.3 758.0L1060.8 755.5L1061.3 753.1L1061.8 750.6L1062.2 748.2L1062.7 745.7L1063.2 743.3M1071.8 699.2L1072.2 696.7L1072.7 694.2L1073.2 691.8L1073.7 689.3L1074.1 686.9L1074.6 684.4L1075.1 682.0L1075.5 679.5L1076.0 677.1L1076.5 674.6L1077.0 672.2L1077.4 669.7L1077.9 667.3M1086.0 625.6L1086.4 623.1L1086.9 620.7L1087.4 618.2L1087.9 615.8L1088.3 613.3L1088.8 610.9L1089.3 608.4L1089.8 606.0L1090.3 603.5L1090.7 601.1L1091.2 598.6L1091.7 596.2L1092.2 593.7L1092.7 591.3M1101.4 547.2L1101.9 544.7L1102.4 542.3L1102.9 539.8L1103.4 537.4L1103.9 534.9L1104.4 532.5L1104.9 530.0L1105.4 527.6L1105.9 525.2L1106.4 522.7L1106.9 520.3L1107.5 517.8L1108.0 515.4M1117.3 471.4L1117.8 468.9L1118.4 466.5L1118.9 464.0L1119.4 461.6L1120.0 459.2L1120.5 456.7L1121.0 454.3L1121.6 451.8L1122.1 449.4L1122.7 447.0L1123.2 444.5L1123.8 442.1L1124.3 439.6M1134.5 395.8L1135.1 393.4L1135.7 390.9L1136.2 388.5L1136.8 386.1L1137.4 383.6L1138.0 381.2L1138.6 378.8L1139.2 376.3L1139.8 373.9L1140.4 371.5L1141.0 369.1L1141.6 366.6L1142.2 364.2M1153.9 320.8L1154.5 318.4L1155.2 316.0L1155.9 313.6L1156.6 311.2L1157.3 308.8L1158.0 306.4L1158.7 304.0L1159.5 301.6L1160.2 299.2L1160.9 296.9L1161.6 294.5L1162.4 292.1M1175.0 254.4L1175.8 252.1L1176.7 249.8L1177.5 247.5L1178.4 245.2L1179.3 242.8L1180.1 240.5L1181.0 238.2L1181.9 235.9L1182.8 233.6L1183.7 231.3L1184.6 229.0L1185.6 226.7M1202.5 188.4L1203.6 186.2L1204.7 184.0L1205.8 181.8L1206.9 179.6L1208.1 177.5L1209.3 175.3L1210.5 173.2L1211.8 171.1M1232.0 148.9L1234.2 147.4L1236.5 145.9L1238.9 144.6L1241.3 143.4L1243.8 142.3L1246.2 141.3L1248.7 140.5M1271.7 142.3L1273.8 143.5L1275.7 144.9L1277.6 146.4L1279.5 148.1L1281.3 149.8L1283.1 151.6L1284.9 153.5L1286.6 155.4L1288.3 157.4M1299.8 171.3L1301.3 173.3L1302.8 175.4L1304.3 177.4L1305.7 179.5L1307.2 181.6L1308.5 183.6L1309.9 185.8L1311.2 187.9L1312.5 190.0M1322.7 209.6L1323.8 211.8L1324.9 214.0L1325.9 216.2L1327.0 218.4L1328.1 220.7L1329.2 222.9L1330.3 225.1L1331.4 227.3L1332.6 229.5L1333.7 231.7L1334.8 234.0M1352.7 269.6L1353.8 271.9L1355.0 274.1L1356.1 276.4L1357.2 278.6L1358.3 280.8L1359.4 283.1L1360.5 285.3L1361.6 287.6L1362.8 289.8L1363.9 292.1L1365.0 294.3L1366.1 296.6M1383.2 332.7L1384.3 335.0L1385.3 337.3L1386.4 339.5L1387.4 341.8L1388.5 344.1L1389.5 346.3L1390.5 348.6L1391.6 350.9L1392.6 353.2M1406.8 385.1L1407.8 387.3L1408.8 389.6L1409.8 391.9L1410.8 394.2L1411.8 396.5L1412.8 398.8L1413.8 401.1L1414.8 403.3L1415.8 405.6L1416.7 407.9L1417.7 410.2M1436.2 453.8L1437.1 456.1L1438.1 458.4L1439.1 460.7L1440.0 463.0L1441.0 465.3L1441.9 467.6L1442.9 469.9L1443.8 472.2L1444.8 474.5L1445.7 476.8M1462.8 518.4L1463.8 520.7L1464.7 523.0L1465.7 525.3L1466.6 527.6L1467.6 529.9L1468.5 532.2L1469.5 534.5L1470.4 536.8L1471.4 539.2L1472.3 541.5L1473.2 543.8M1491.1 587.7L1492.1 590.0L1493.0 592.4L1494.0 594.7L1494.9 597.0L1495.9 599.3L1496.8 601.6L1497.7 603.9L1498.7 606.2L1499.6 608.6L1500.6 610.9M1512.8 641.0L1513.8 643.3L1514.7 645.6L1515.7 647.9L1516.6 650.2L1517.6 652.5L1518.5 654.8L1519.5 657.2L1520.4 659.5L1521.4 661.8L1522.3 664.1L1523.3 666.4M1541.4 710.3L1542.3 712.6L1543.3 714.9L1544.2 717.2L1545.2 719.5L1546.2 721.8L1547.1 724.2L1548.1 726.5L1549.0 728.8L1550.0 731.1L1551.0 733.4L1551.9 735.7L1552.9 738.0M1570.4 779.4L1571.4 781.7L1572.4 784.0L1573.4 786.3L1574.4 788.6L1575.3 790.9L1576.3 793.2L1577.3 795.5L1578.3 797.8L1579.3 800.1L1580.3 802.4L1581.3 804.6L1582.3 806.9L1583.3 809.2M1597.3 841.2L1598.3 843.5L1599.3 845.8L1600.3 848.1L1601.3 850.4L1602.3 852.7L1603.4 854.9L1604.4 857.2L1605.4 859.5L1606.4 861.8L1607.4 864.0L1608.5 866.3M1628.2 909.4L1629.2 911.7L1630.3 913.9L1631.3 916.2L1632.4 918.4L1633.5 920.7L1634.5 923.0L1635.6 925.2L1636.6 927.5L1637.7 929.7L1638.8 932.0L1639.8 934.2M1658.3 972.4L1659.4 974.7L1660.5 976.9L1661.6 979.1L1662.7 981.4L1663.8 983.6L1664.9 985.8L1666.0 988.1L1667.1 990.3L1668.2 992.5L1669.4 994.8L1670.5 997.0M1691.0 1037.0L1692.2 1039.2L1693.3 1041.4L1694.5 1043.6L1695.7 1045.8L1696.8 1048.1L1698.0 1050.3L1699.2 1052.5L1700.3 1054.7L1701.5 1056.9L1702.7 1059.1L1703.9 1061.3L1705.1 1063.5M1724.4 1098.6L1725.6 1100.8L1726.9 1102.9L1728.1 1105.1L1729.3 1107.3L1730.6 1109.5L1731.8 1111.6L1733.1 1113.8L1734.4 1116.0L1735.6 1118.1L1736.9 1120.3L1738.2 1122.4L1739.4 1124.6M1761.7 1160.7L1763.1 1162.8L1764.4 1164.9L1765.8 1167.0L1767.2 1169.1L1768.5 1171.2L1769.9 1173.3L1771.3 1175.3L1772.7 1177.4L1774.1 1179.5M1798.7 1213.9L1800.2 1215.9L1801.7 1217.9L1803.2 1219.8L1804.7 1221.8L1806.3 1223.7L1807.8 1225.7L1809.4 1227.6L1810.9 1229.6L1812.5 1231.5L1814.0 1233.5L1815.6 1235.4M1836.6 1259.9L1838.3 1261.7L1840.0 1263.5L1841.7 1265.4L1843.3 1267.2L1845.0 1269.0L1846.7 1270.8L1848.4 1272.6L1850.2 1274.4L1851.9 1276.2M1880.2 1304.1L1882.1 1305.8L1883.9 1307.5L1885.7 1309.2L1887.6 1310.8L1889.4 1312.5L1891.3 1314.2L1893.1 1315.8L1895.0 1317.5L1896.9 1319.1L1898.7 1320.8L1900.6 1322.4L1902.5 1324.0M1933.4 1349.2L1935.3 1350.8L1937.3 1352.3L1939.3 1353.8L1941.3 1355.3L1943.3 1356.8L1945.3 1358.3L1947.3 1359.8L1949.3 1361.3L1951.3 1362.8M1977.8 1381.4L1979.9 1382.8L1982.0 1384.2L1984.1 1385.6L1986.2 1387.0L1988.2 1388.3L1990.3 1389.7L1992.4 1391.0L1994.5 1392.4L1996.6 1393.7L1998.7 1395.1L2000.9 1396.4M2028.6 1413.2L2030.8 1414.5L2033.0 1415.7L2035.1 1416.9L2037.3 1418.2L2039.5 1419.4L2041.6 1420.6L2043.8 1421.8L2046.0 1423.0L2048.2 1424.2L2050.4 1425.4L2052.6 1426.6M2083.6 1442.7L2085.8 1443.8L2088.0 1444.8L2090.3 1445.9L2092.5 1447.0L2094.7 1448.1L2097.0 1449.2L2099.2 1450.2L2101.5 1451.3L2103.7 1452.3L2106.0 1453.4L2108.2 1454.4" stroke="#0071e5" stroke-width="7.2"/>
</g>
<line x1="275.7" y1="132.8" x2="468.1" y2="132.8" stroke="#4f4f4f" stroke-width="11"/>
<line x1="275.7" y1="241.2" x2="468.1" y2="241.2" stroke="#ff3c3c" stroke-width="11"/>
<line x1="275.7" y1="349.3" x2="468.1" y2="349.3" stroke="#0071e5" stroke-width="11"/>
</g>
<g stroke="#000" stroke-width="5.5" fill="none" stroke-linecap="butt">
<path d="M242.7 50.1V1606.9"/>
<path d="M212.5 1576.9H2138.1"/>
<path d="M228.0 52.85H2138.1"/>
<path d="M2135.35 50.1V1590.9"/>
<path d="M212.5 1238.22H242.7M212.5 899.54H242.7M212.5 560.87H242.7M212.5 222.19H242.7M228.0 1407.56H242.7M228.0 1068.88H242.7M228.0 730.21H242.7M228.0 391.53H242.7M783.46 1576.9V1606.9M1324.21 1576.9V1606.9M1864.97 1576.9V1606.9M513.08 1576.9V1590.9M1053.84 1576.9V1590.9M1594.59 1576.9V1590.9M2105.15 1128.65H2135.35M2105.15 680.40H2135.35M2105.15 232.15H2135.35M2120.65 1352.78H2135.35M2120.65 904.52H2135.35M2120.65 456.27H2135.35"/>
</g>
<g font-family="'Liberation Sans', Arial, sans-serif" font-size="80.5" fill="#000">
<text transform="translate(192 1600.5) scale(1 1.03)" text-anchor="end">0</text>
<text transform="translate(192 1261.8) scale(1 1.03)" text-anchor="end">2</text>
<text transform="translate(192 923.1) scale(1 1.03)" text-anchor="end">4</text>
<text transform="translate(192 584.5) scale(1 1.03)" text-anchor="end">6</text>
<text transform="translate(192 245.8) scale(1 1.03)" text-anchor="end">8</text>
<text transform="translate(242.7 1689) scale(1 1.02)" text-anchor="middle">400</text>
<text transform="translate(783.5 1689) scale(1 1.02)" text-anchor="middle">500</text>
<text transform="translate(1324.2 1689) scale(1 1.02)" text-anchor="middle">600</text>
<text transform="translate(1865.0 1689) scale(1 1.02)" text-anchor="middle">700</text>
<text transform="translate(2167.5 1600.5) scale(1 1.03)">0</text>
<text transform="translate(2167.5 1152.2) scale(1 1.03)">5</text>
<text transform="translate(2167.5 704.0) scale(1 1.03)">10</text>
<text transform="translate(2167.5 255.7) scale(1 1.03)">15</text>
</g>
<text font-family="'Liberation Sans', Arial, sans-serif" font-size="94.5" x="1190.1" y="1811.8" text-anchor="middle">Wavelength (nm)</text>
<text font-family="'Liberation Sans', Arial, sans-serif" font-size="79" transform="translate(2344.3 815.2) rotate(-90)" text-anchor="middle">Fluorescence intensity</text>
<text font-family="'Liberation Sans', Arial, sans-serif" font-size="94" transform="translate(111.1 1449.4) rotate(-90)">Molar absorption (10<tspan font-size="62.7" dy="-38.9">4</tspan><tspan dy="38.9"> M</tspan><tspan font-size="62.7" dy="-38.9">-1</tspan><tspan dy="38.9">cm</tspan><tspan font-size="62.7" dy="-38.9">-1</tspan><tspan dy="38.9">)</tspan></text>
<g font-family="'Liberation Sans', Arial, sans-serif" font-weight="bold" font-size="86">
<text transform="translate(491.5 161.7) scale(1 1.025)">2</text>
<text transform="translate(491.5 270.3) scale(1 1.025)">2a</text>
<text transform="translate(491.5 379.0) scale(1 1.025)">2b</text>
</g>
</svg>
</body></html>
